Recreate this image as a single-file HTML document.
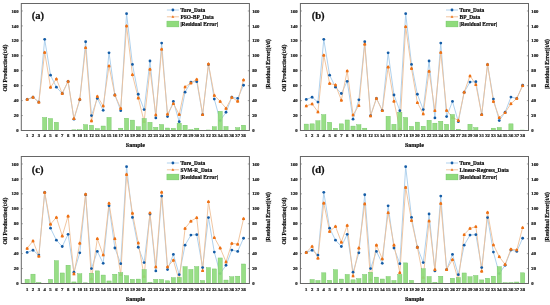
<!DOCTYPE html>
<html><head><meta charset="utf-8"><style>
html,body{margin:0;padding:0;background:#fff;}
svg{display:block;will-change:transform;}
</style></head><body>
<svg width="550" height="305" viewBox="0 0 550 305">
<rect width="550" height="305" fill="#fff"/>
<g><polyline points="27.15,99.42 33.00,97.26 38.85,102.11 44.69,39.36 50.54,75.22 56.39,87.17 62.24,93.52 68.09,81.34 73.94,119.22 79.79,99.87 85.64,41.75 91.48,115.56 97.33,98.38 103.18,110.33 109.03,52.81 114.88,95.01 120.73,110.63 126.58,13.66 132.43,64.39 138.27,94.27 144.12,109.58 149.97,61.02 155.82,117.95 161.67,43.09 167.52,116.53 173.37,101.44 179.22,121.68 185.06,92.18 190.91,82.09 196.76,81.64 202.61,114.59 208.46,64.53 214.31,99.12 220.16,120.56 226.01,112.27 231.85,97.11 237.70,98.38 243.55,85.23" fill="none" stroke="#a6cceb" stroke-width="0.9"/>
<polyline points="27.15,99.42 33.00,97.26 38.85,102.11 44.69,52.36 50.54,87.17 56.39,78.95 62.24,93.52 68.09,81.34 73.94,118.55 79.79,99.12 85.64,47.58 91.48,120.79 97.33,96.51 103.18,105.85 109.03,65.88 114.88,95.01 120.73,108.31 126.58,25.91 132.43,74.77 138.27,98.00 144.12,121.54 149.97,69.24 155.82,114.81 161.67,49.07 167.52,114.06 173.37,103.61 179.22,114.36 185.06,86.87 190.91,82.99 196.76,79.33 202.61,114.59 208.46,64.01 214.31,95.39 220.16,101.36 226.01,108.31 231.85,97.33 237.70,101.22 243.55,79.92" fill="none" stroke="#efc096" stroke-width="0.9"/>
<circle cx="27.15" cy="99.42" r="1.4" fill="#145ca6"/>
<circle cx="33.00" cy="97.26" r="1.4" fill="#145ca6"/>
<circle cx="38.85" cy="102.11" r="1.4" fill="#145ca6"/>
<circle cx="44.69" cy="39.36" r="1.4" fill="#145ca6"/>
<circle cx="50.54" cy="75.22" r="1.4" fill="#145ca6"/>
<circle cx="56.39" cy="87.17" r="1.4" fill="#145ca6"/>
<circle cx="62.24" cy="93.52" r="1.4" fill="#145ca6"/>
<circle cx="68.09" cy="81.34" r="1.4" fill="#145ca6"/>
<circle cx="73.94" cy="119.22" r="1.4" fill="#145ca6"/>
<circle cx="79.79" cy="99.87" r="1.4" fill="#145ca6"/>
<circle cx="85.64" cy="41.75" r="1.4" fill="#145ca6"/>
<circle cx="91.48" cy="115.56" r="1.4" fill="#145ca6"/>
<circle cx="97.33" cy="98.38" r="1.4" fill="#145ca6"/>
<circle cx="103.18" cy="110.33" r="1.4" fill="#145ca6"/>
<circle cx="109.03" cy="52.81" r="1.4" fill="#145ca6"/>
<circle cx="114.88" cy="95.01" r="1.4" fill="#145ca6"/>
<circle cx="120.73" cy="110.63" r="1.4" fill="#145ca6"/>
<circle cx="126.58" cy="13.66" r="1.4" fill="#145ca6"/>
<circle cx="132.43" cy="64.39" r="1.4" fill="#145ca6"/>
<circle cx="138.27" cy="94.27" r="1.4" fill="#145ca6"/>
<circle cx="144.12" cy="109.58" r="1.4" fill="#145ca6"/>
<circle cx="149.97" cy="61.02" r="1.4" fill="#145ca6"/>
<circle cx="155.82" cy="117.95" r="1.4" fill="#145ca6"/>
<circle cx="161.67" cy="43.09" r="1.4" fill="#145ca6"/>
<circle cx="167.52" cy="116.53" r="1.4" fill="#145ca6"/>
<circle cx="173.37" cy="101.44" r="1.4" fill="#145ca6"/>
<circle cx="179.22" cy="121.68" r="1.4" fill="#145ca6"/>
<circle cx="185.06" cy="92.18" r="1.4" fill="#145ca6"/>
<circle cx="190.91" cy="82.09" r="1.4" fill="#145ca6"/>
<circle cx="196.76" cy="81.64" r="1.4" fill="#145ca6"/>
<circle cx="202.61" cy="114.59" r="1.4" fill="#145ca6"/>
<circle cx="208.46" cy="64.53" r="1.4" fill="#145ca6"/>
<circle cx="214.31" cy="99.12" r="1.4" fill="#145ca6"/>
<circle cx="220.16" cy="120.56" r="1.4" fill="#145ca6"/>
<circle cx="226.01" cy="112.27" r="1.4" fill="#145ca6"/>
<circle cx="231.85" cy="97.11" r="1.4" fill="#145ca6"/>
<circle cx="237.70" cy="98.38" r="1.4" fill="#145ca6"/>
<circle cx="243.55" cy="85.23" r="1.4" fill="#145ca6"/>
<path d="M27.15 97.52 L28.75 100.77 L25.55 100.77Z" fill="#ee7216"/><circle cx="27.15" cy="99.57" r="1.32" fill="#ee7216"/>
<path d="M33.00 95.36 L34.60 98.61 L31.40 98.61Z" fill="#ee7216"/><circle cx="33.00" cy="97.41" r="1.32" fill="#ee7216"/>
<path d="M38.85 100.21 L40.45 103.46 L37.25 103.46Z" fill="#ee7216"/><circle cx="38.85" cy="102.26" r="1.32" fill="#ee7216"/>
<path d="M44.69 50.46 L46.29 53.71 L43.09 53.71Z" fill="#ee7216"/><circle cx="44.69" cy="52.51" r="1.32" fill="#ee7216"/>
<path d="M50.54 85.27 L52.14 88.52 L48.94 88.52Z" fill="#ee7216"/><circle cx="50.54" cy="87.32" r="1.32" fill="#ee7216"/>
<path d="M56.39 77.05 L57.99 80.30 L54.79 80.30Z" fill="#ee7216"/><circle cx="56.39" cy="79.10" r="1.32" fill="#ee7216"/>
<path d="M62.24 91.62 L63.84 94.87 L60.64 94.87Z" fill="#ee7216"/><circle cx="62.24" cy="93.67" r="1.32" fill="#ee7216"/>
<path d="M68.09 79.44 L69.69 82.69 L66.49 82.69Z" fill="#ee7216"/><circle cx="68.09" cy="81.49" r="1.32" fill="#ee7216"/>
<path d="M73.94 116.65 L75.54 119.90 L72.34 119.90Z" fill="#ee7216"/><circle cx="73.94" cy="118.70" r="1.32" fill="#ee7216"/>
<path d="M79.79 97.22 L81.39 100.47 L78.19 100.47Z" fill="#ee7216"/><circle cx="79.79" cy="99.27" r="1.32" fill="#ee7216"/>
<path d="M85.64 45.68 L87.24 48.93 L84.04 48.93Z" fill="#ee7216"/><circle cx="85.64" cy="47.73" r="1.32" fill="#ee7216"/>
<path d="M91.48 118.89 L93.08 122.14 L89.88 122.14Z" fill="#ee7216"/><circle cx="91.48" cy="120.94" r="1.32" fill="#ee7216"/>
<path d="M97.33 94.61 L98.93 97.86 L95.73 97.86Z" fill="#ee7216"/><circle cx="97.33" cy="96.66" r="1.32" fill="#ee7216"/>
<path d="M103.18 103.95 L104.78 107.20 L101.58 107.20Z" fill="#ee7216"/><circle cx="103.18" cy="106.00" r="1.32" fill="#ee7216"/>
<path d="M109.03 63.98 L110.63 67.23 L107.43 67.23Z" fill="#ee7216"/><circle cx="109.03" cy="66.03" r="1.32" fill="#ee7216"/>
<path d="M114.88 93.11 L116.48 96.36 L113.28 96.36Z" fill="#ee7216"/><circle cx="114.88" cy="95.16" r="1.32" fill="#ee7216"/>
<path d="M120.73 106.41 L122.33 109.66 L119.13 109.66Z" fill="#ee7216"/><circle cx="120.73" cy="108.46" r="1.32" fill="#ee7216"/>
<path d="M126.58 24.01 L128.18 27.26 L124.98 27.26Z" fill="#ee7216"/><circle cx="126.58" cy="26.06" r="1.32" fill="#ee7216"/>
<path d="M132.43 72.87 L134.03 76.12 L130.83 76.12Z" fill="#ee7216"/><circle cx="132.43" cy="74.92" r="1.32" fill="#ee7216"/>
<path d="M138.27 96.10 L139.87 99.35 L136.67 99.35Z" fill="#ee7216"/><circle cx="138.27" cy="98.15" r="1.32" fill="#ee7216"/>
<path d="M144.12 119.64 L145.72 122.89 L142.52 122.89Z" fill="#ee7216"/><circle cx="144.12" cy="121.69" r="1.32" fill="#ee7216"/>
<path d="M149.97 67.34 L151.57 70.59 L148.37 70.59Z" fill="#ee7216"/><circle cx="149.97" cy="69.39" r="1.32" fill="#ee7216"/>
<path d="M155.82 112.91 L157.42 116.16 L154.22 116.16Z" fill="#ee7216"/><circle cx="155.82" cy="114.96" r="1.32" fill="#ee7216"/>
<path d="M161.67 47.17 L163.27 50.42 L160.07 50.42Z" fill="#ee7216"/><circle cx="161.67" cy="49.22" r="1.32" fill="#ee7216"/>
<path d="M167.52 112.16 L169.12 115.41 L165.92 115.41Z" fill="#ee7216"/><circle cx="167.52" cy="114.21" r="1.32" fill="#ee7216"/>
<path d="M173.37 101.71 L174.97 104.96 L171.77 104.96Z" fill="#ee7216"/><circle cx="173.37" cy="103.76" r="1.32" fill="#ee7216"/>
<path d="M179.22 112.46 L180.82 115.71 L177.62 115.71Z" fill="#ee7216"/><circle cx="179.22" cy="114.51" r="1.32" fill="#ee7216"/>
<path d="M185.06 84.97 L186.66 88.22 L183.46 88.22Z" fill="#ee7216"/><circle cx="185.06" cy="87.02" r="1.32" fill="#ee7216"/>
<path d="M190.91 81.09 L192.51 84.34 L189.31 84.34Z" fill="#ee7216"/><circle cx="190.91" cy="83.14" r="1.32" fill="#ee7216"/>
<path d="M196.76 77.43 L198.36 80.68 L195.16 80.68Z" fill="#ee7216"/><circle cx="196.76" cy="79.48" r="1.32" fill="#ee7216"/>
<path d="M202.61 112.69 L204.21 115.94 L201.01 115.94Z" fill="#ee7216"/><circle cx="202.61" cy="114.74" r="1.32" fill="#ee7216"/>
<path d="M208.46 62.11 L210.06 65.36 L206.86 65.36Z" fill="#ee7216"/><circle cx="208.46" cy="64.16" r="1.32" fill="#ee7216"/>
<path d="M214.31 93.49 L215.91 96.74 L212.71 96.74Z" fill="#ee7216"/><circle cx="214.31" cy="95.54" r="1.32" fill="#ee7216"/>
<path d="M220.16 99.46 L221.76 102.71 L218.56 102.71Z" fill="#ee7216"/><circle cx="220.16" cy="101.51" r="1.32" fill="#ee7216"/>
<path d="M226.01 106.41 L227.61 109.66 L224.41 109.66Z" fill="#ee7216"/><circle cx="226.01" cy="108.46" r="1.32" fill="#ee7216"/>
<path d="M231.85 95.43 L233.45 98.68 L230.25 98.68Z" fill="#ee7216"/><circle cx="231.85" cy="97.48" r="1.32" fill="#ee7216"/>
<path d="M237.70 99.32 L239.30 102.57 L236.10 102.57Z" fill="#ee7216"/><circle cx="237.70" cy="101.37" r="1.32" fill="#ee7216"/>
<path d="M243.55 78.02 L245.15 81.27 L241.95 81.27Z" fill="#ee7216"/><circle cx="243.55" cy="80.07" r="1.32" fill="#ee7216"/>
<rect x="42.59" y="117.50" width="4.21" height="13.00" fill="#8fdb7c" fill-opacity="0.92" stroke="#6cc060" stroke-width="0.4"/>
<rect x="48.44" y="118.55" width="4.21" height="11.95" fill="#8fdb7c" fill-opacity="0.92" stroke="#6cc060" stroke-width="0.4"/>
<rect x="54.29" y="122.28" width="4.21" height="8.22" fill="#8fdb7c" fill-opacity="0.92" stroke="#6cc060" stroke-width="0.4"/>
<rect x="71.83" y="129.83" width="4.21" height="0.67" fill="#8fdb7c" fill-opacity="0.92" stroke="#6cc060" stroke-width="0.4"/>
<rect x="77.68" y="129.75" width="4.21" height="0.75" fill="#8fdb7c" fill-opacity="0.92" stroke="#6cc060" stroke-width="0.4"/>
<rect x="83.53" y="124.67" width="4.21" height="5.83" fill="#8fdb7c" fill-opacity="0.92" stroke="#6cc060" stroke-width="0.4"/>
<rect x="89.38" y="125.27" width="4.21" height="5.23" fill="#8fdb7c" fill-opacity="0.92" stroke="#6cc060" stroke-width="0.4"/>
<rect x="95.23" y="128.63" width="4.21" height="1.87" fill="#8fdb7c" fill-opacity="0.92" stroke="#6cc060" stroke-width="0.4"/>
<rect x="101.08" y="126.02" width="4.21" height="4.48" fill="#8fdb7c" fill-opacity="0.92" stroke="#6cc060" stroke-width="0.4"/>
<rect x="106.93" y="117.43" width="4.21" height="13.07" fill="#8fdb7c" fill-opacity="0.92" stroke="#6cc060" stroke-width="0.4"/>
<rect x="118.62" y="128.18" width="4.21" height="2.32" fill="#8fdb7c" fill-opacity="0.92" stroke="#6cc060" stroke-width="0.4"/>
<rect x="124.47" y="118.25" width="4.21" height="12.25" fill="#8fdb7c" fill-opacity="0.92" stroke="#6cc060" stroke-width="0.4"/>
<rect x="130.32" y="120.12" width="4.21" height="10.38" fill="#8fdb7c" fill-opacity="0.92" stroke="#6cc060" stroke-width="0.4"/>
<rect x="136.17" y="126.76" width="4.21" height="3.74" fill="#8fdb7c" fill-opacity="0.92" stroke="#6cc060" stroke-width="0.4"/>
<rect x="142.02" y="118.55" width="4.21" height="11.95" fill="#8fdb7c" fill-opacity="0.92" stroke="#6cc060" stroke-width="0.4"/>
<rect x="147.87" y="122.28" width="4.21" height="8.22" fill="#8fdb7c" fill-opacity="0.92" stroke="#6cc060" stroke-width="0.4"/>
<rect x="153.71" y="127.36" width="4.21" height="3.14" fill="#8fdb7c" fill-opacity="0.92" stroke="#6cc060" stroke-width="0.4"/>
<rect x="159.56" y="124.52" width="4.21" height="5.98" fill="#8fdb7c" fill-opacity="0.92" stroke="#6cc060" stroke-width="0.4"/>
<rect x="165.41" y="128.03" width="4.21" height="2.47" fill="#8fdb7c" fill-opacity="0.92" stroke="#6cc060" stroke-width="0.4"/>
<rect x="171.26" y="128.33" width="4.21" height="2.17" fill="#8fdb7c" fill-opacity="0.92" stroke="#6cc060" stroke-width="0.4"/>
<rect x="177.11" y="123.18" width="4.21" height="7.32" fill="#8fdb7c" fill-opacity="0.92" stroke="#6cc060" stroke-width="0.4"/>
<rect x="182.96" y="125.20" width="4.21" height="5.30" fill="#8fdb7c" fill-opacity="0.92" stroke="#6cc060" stroke-width="0.4"/>
<rect x="188.81" y="129.60" width="4.21" height="0.90" fill="#8fdb7c" fill-opacity="0.92" stroke="#6cc060" stroke-width="0.4"/>
<rect x="194.66" y="128.18" width="4.21" height="2.32" fill="#8fdb7c" fill-opacity="0.92" stroke="#6cc060" stroke-width="0.4"/>
<rect x="206.35" y="129.98" width="4.21" height="0.52" fill="#8fdb7c" fill-opacity="0.92" stroke="#6cc060" stroke-width="0.4"/>
<rect x="212.20" y="126.76" width="4.21" height="3.74" fill="#8fdb7c" fill-opacity="0.92" stroke="#6cc060" stroke-width="0.4"/>
<rect x="218.05" y="111.30" width="4.21" height="19.20" fill="#8fdb7c" fill-opacity="0.92" stroke="#6cc060" stroke-width="0.4"/>
<rect x="223.90" y="126.54" width="4.21" height="3.96" fill="#8fdb7c" fill-opacity="0.92" stroke="#6cc060" stroke-width="0.4"/>
<rect x="229.75" y="130.28" width="4.21" height="0.22" fill="#8fdb7c" fill-opacity="0.92" stroke="#6cc060" stroke-width="0.4"/>
<rect x="235.60" y="127.66" width="4.21" height="2.84" fill="#8fdb7c" fill-opacity="0.92" stroke="#6cc060" stroke-width="0.4"/>
<rect x="241.45" y="125.20" width="4.21" height="5.30" fill="#8fdb7c" fill-opacity="0.92" stroke="#6cc060" stroke-width="0.4"/>
<rect x="21.30" y="3.50" width="228.10" height="127.00" fill="none" stroke="#666666" stroke-width="1.0"/>
<line x1="21.30" y1="130.50" x2="22.90" y2="130.50" stroke="#666666" stroke-width="0.6"/>
<line x1="249.40" y1="130.50" x2="247.80" y2="130.50" stroke="#666666" stroke-width="0.6"/>
<text x="18.50" y="132.10" text-anchor="end" font-size="4.7" font-family="Liberation Serif, serif" font-weight="bold" stroke="#222" stroke-width="0.24" fill="#222">0</text>
<text x="252.20" y="132.10" text-anchor="start" font-size="4.7" font-family="Liberation Serif, serif" font-weight="bold" stroke="#222" stroke-width="0.24" fill="#222">0</text>
<line x1="21.30" y1="115.56" x2="22.90" y2="115.56" stroke="#666666" stroke-width="0.6"/>
<line x1="249.40" y1="115.56" x2="247.80" y2="115.56" stroke="#666666" stroke-width="0.6"/>
<text x="18.50" y="117.16" text-anchor="end" font-size="4.7" font-family="Liberation Serif, serif" font-weight="bold" stroke="#222" stroke-width="0.24" fill="#222">20</text>
<text x="252.20" y="117.16" text-anchor="start" font-size="4.7" font-family="Liberation Serif, serif" font-weight="bold" stroke="#222" stroke-width="0.24" fill="#222">20</text>
<line x1="21.30" y1="100.62" x2="22.90" y2="100.62" stroke="#666666" stroke-width="0.6"/>
<line x1="249.40" y1="100.62" x2="247.80" y2="100.62" stroke="#666666" stroke-width="0.6"/>
<text x="18.50" y="102.22" text-anchor="end" font-size="4.7" font-family="Liberation Serif, serif" font-weight="bold" stroke="#222" stroke-width="0.24" fill="#222">40</text>
<text x="252.20" y="102.22" text-anchor="start" font-size="4.7" font-family="Liberation Serif, serif" font-weight="bold" stroke="#222" stroke-width="0.24" fill="#222">40</text>
<line x1="21.30" y1="85.68" x2="22.90" y2="85.68" stroke="#666666" stroke-width="0.6"/>
<line x1="249.40" y1="85.68" x2="247.80" y2="85.68" stroke="#666666" stroke-width="0.6"/>
<text x="18.50" y="87.28" text-anchor="end" font-size="4.7" font-family="Liberation Serif, serif" font-weight="bold" stroke="#222" stroke-width="0.24" fill="#222">60</text>
<text x="252.20" y="87.28" text-anchor="start" font-size="4.7" font-family="Liberation Serif, serif" font-weight="bold" stroke="#222" stroke-width="0.24" fill="#222">60</text>
<line x1="21.30" y1="70.74" x2="22.90" y2="70.74" stroke="#666666" stroke-width="0.6"/>
<line x1="249.40" y1="70.74" x2="247.80" y2="70.74" stroke="#666666" stroke-width="0.6"/>
<text x="18.50" y="72.34" text-anchor="end" font-size="4.7" font-family="Liberation Serif, serif" font-weight="bold" stroke="#222" stroke-width="0.24" fill="#222">80</text>
<text x="252.20" y="72.34" text-anchor="start" font-size="4.7" font-family="Liberation Serif, serif" font-weight="bold" stroke="#222" stroke-width="0.24" fill="#222">80</text>
<line x1="21.30" y1="55.79" x2="22.90" y2="55.79" stroke="#666666" stroke-width="0.6"/>
<line x1="249.40" y1="55.79" x2="247.80" y2="55.79" stroke="#666666" stroke-width="0.6"/>
<text x="18.50" y="57.39" text-anchor="end" font-size="4.7" font-family="Liberation Serif, serif" font-weight="bold" stroke="#222" stroke-width="0.24" fill="#222">100</text>
<text x="252.20" y="57.39" text-anchor="start" font-size="4.7" font-family="Liberation Serif, serif" font-weight="bold" stroke="#222" stroke-width="0.24" fill="#222">100</text>
<line x1="21.30" y1="40.85" x2="22.90" y2="40.85" stroke="#666666" stroke-width="0.6"/>
<line x1="249.40" y1="40.85" x2="247.80" y2="40.85" stroke="#666666" stroke-width="0.6"/>
<text x="18.50" y="42.45" text-anchor="end" font-size="4.7" font-family="Liberation Serif, serif" font-weight="bold" stroke="#222" stroke-width="0.24" fill="#222">120</text>
<text x="252.20" y="42.45" text-anchor="start" font-size="4.7" font-family="Liberation Serif, serif" font-weight="bold" stroke="#222" stroke-width="0.24" fill="#222">120</text>
<line x1="21.30" y1="25.91" x2="22.90" y2="25.91" stroke="#666666" stroke-width="0.6"/>
<line x1="249.40" y1="25.91" x2="247.80" y2="25.91" stroke="#666666" stroke-width="0.6"/>
<text x="18.50" y="27.51" text-anchor="end" font-size="4.7" font-family="Liberation Serif, serif" font-weight="bold" stroke="#222" stroke-width="0.24" fill="#222">140</text>
<text x="252.20" y="27.51" text-anchor="start" font-size="4.7" font-family="Liberation Serif, serif" font-weight="bold" stroke="#222" stroke-width="0.24" fill="#222">140</text>
<line x1="21.30" y1="10.97" x2="22.90" y2="10.97" stroke="#666666" stroke-width="0.6"/>
<line x1="249.40" y1="10.97" x2="247.80" y2="10.97" stroke="#666666" stroke-width="0.6"/>
<text x="18.50" y="12.57" text-anchor="end" font-size="4.7" font-family="Liberation Serif, serif" font-weight="bold" stroke="#222" stroke-width="0.24" fill="#222">160</text>
<text x="252.20" y="12.57" text-anchor="start" font-size="4.7" font-family="Liberation Serif, serif" font-weight="bold" stroke="#222" stroke-width="0.24" fill="#222">160</text>
<text x="27.15" y="137.20" text-anchor="middle" font-size="4.7" font-family="Liberation Serif, serif" font-weight="bold" stroke="#222" stroke-width="0.24" fill="#222">1</text>
<text x="33.00" y="137.20" text-anchor="middle" font-size="4.7" font-family="Liberation Serif, serif" font-weight="bold" stroke="#222" stroke-width="0.24" fill="#222">2</text>
<text x="38.85" y="137.20" text-anchor="middle" font-size="4.7" font-family="Liberation Serif, serif" font-weight="bold" stroke="#222" stroke-width="0.24" fill="#222">3</text>
<text x="44.69" y="137.20" text-anchor="middle" font-size="4.7" font-family="Liberation Serif, serif" font-weight="bold" stroke="#222" stroke-width="0.24" fill="#222">4</text>
<text x="50.54" y="137.20" text-anchor="middle" font-size="4.7" font-family="Liberation Serif, serif" font-weight="bold" stroke="#222" stroke-width="0.24" fill="#222">5</text>
<text x="56.39" y="137.20" text-anchor="middle" font-size="4.7" font-family="Liberation Serif, serif" font-weight="bold" stroke="#222" stroke-width="0.24" fill="#222">6</text>
<text x="62.24" y="137.20" text-anchor="middle" font-size="4.7" font-family="Liberation Serif, serif" font-weight="bold" stroke="#222" stroke-width="0.24" fill="#222">7</text>
<text x="68.09" y="137.20" text-anchor="middle" font-size="4.7" font-family="Liberation Serif, serif" font-weight="bold" stroke="#222" stroke-width="0.24" fill="#222">8</text>
<text x="73.94" y="137.20" text-anchor="middle" font-size="4.7" font-family="Liberation Serif, serif" font-weight="bold" stroke="#222" stroke-width="0.24" fill="#222">9</text>
<text x="79.79" y="137.20" text-anchor="middle" font-size="4.7" font-family="Liberation Serif, serif" font-weight="bold" stroke="#222" stroke-width="0.24" fill="#222">10</text>
<text x="85.64" y="137.20" text-anchor="middle" font-size="4.7" font-family="Liberation Serif, serif" font-weight="bold" stroke="#222" stroke-width="0.24" fill="#222">11</text>
<text x="91.48" y="137.20" text-anchor="middle" font-size="4.7" font-family="Liberation Serif, serif" font-weight="bold" stroke="#222" stroke-width="0.24" fill="#222">12</text>
<text x="97.33" y="137.20" text-anchor="middle" font-size="4.7" font-family="Liberation Serif, serif" font-weight="bold" stroke="#222" stroke-width="0.24" fill="#222">13</text>
<text x="103.18" y="137.20" text-anchor="middle" font-size="4.7" font-family="Liberation Serif, serif" font-weight="bold" stroke="#222" stroke-width="0.24" fill="#222">14</text>
<text x="109.03" y="137.20" text-anchor="middle" font-size="4.7" font-family="Liberation Serif, serif" font-weight="bold" stroke="#222" stroke-width="0.24" fill="#222">15</text>
<text x="114.88" y="137.20" text-anchor="middle" font-size="4.7" font-family="Liberation Serif, serif" font-weight="bold" stroke="#222" stroke-width="0.24" fill="#222">16</text>
<text x="120.73" y="137.20" text-anchor="middle" font-size="4.7" font-family="Liberation Serif, serif" font-weight="bold" stroke="#222" stroke-width="0.24" fill="#222">17</text>
<text x="126.58" y="137.20" text-anchor="middle" font-size="4.7" font-family="Liberation Serif, serif" font-weight="bold" stroke="#222" stroke-width="0.24" fill="#222">18</text>
<text x="132.43" y="137.20" text-anchor="middle" font-size="4.7" font-family="Liberation Serif, serif" font-weight="bold" stroke="#222" stroke-width="0.24" fill="#222">19</text>
<text x="138.27" y="137.20" text-anchor="middle" font-size="4.7" font-family="Liberation Serif, serif" font-weight="bold" stroke="#222" stroke-width="0.24" fill="#222">20</text>
<text x="144.12" y="137.20" text-anchor="middle" font-size="4.7" font-family="Liberation Serif, serif" font-weight="bold" stroke="#222" stroke-width="0.24" fill="#222">21</text>
<text x="149.97" y="137.20" text-anchor="middle" font-size="4.7" font-family="Liberation Serif, serif" font-weight="bold" stroke="#222" stroke-width="0.24" fill="#222">22</text>
<text x="155.82" y="137.20" text-anchor="middle" font-size="4.7" font-family="Liberation Serif, serif" font-weight="bold" stroke="#222" stroke-width="0.24" fill="#222">23</text>
<text x="161.67" y="137.20" text-anchor="middle" font-size="4.7" font-family="Liberation Serif, serif" font-weight="bold" stroke="#222" stroke-width="0.24" fill="#222">24</text>
<text x="167.52" y="137.20" text-anchor="middle" font-size="4.7" font-family="Liberation Serif, serif" font-weight="bold" stroke="#222" stroke-width="0.24" fill="#222">25</text>
<text x="173.37" y="137.20" text-anchor="middle" font-size="4.7" font-family="Liberation Serif, serif" font-weight="bold" stroke="#222" stroke-width="0.24" fill="#222">26</text>
<text x="179.22" y="137.20" text-anchor="middle" font-size="4.7" font-family="Liberation Serif, serif" font-weight="bold" stroke="#222" stroke-width="0.24" fill="#222">27</text>
<text x="185.06" y="137.20" text-anchor="middle" font-size="4.7" font-family="Liberation Serif, serif" font-weight="bold" stroke="#222" stroke-width="0.24" fill="#222">28</text>
<text x="190.91" y="137.20" text-anchor="middle" font-size="4.7" font-family="Liberation Serif, serif" font-weight="bold" stroke="#222" stroke-width="0.24" fill="#222">29</text>
<text x="196.76" y="137.20" text-anchor="middle" font-size="4.7" font-family="Liberation Serif, serif" font-weight="bold" stroke="#222" stroke-width="0.24" fill="#222">30</text>
<text x="202.61" y="137.20" text-anchor="middle" font-size="4.7" font-family="Liberation Serif, serif" font-weight="bold" stroke="#222" stroke-width="0.24" fill="#222">31</text>
<text x="208.46" y="137.20" text-anchor="middle" font-size="4.7" font-family="Liberation Serif, serif" font-weight="bold" stroke="#222" stroke-width="0.24" fill="#222">32</text>
<text x="214.31" y="137.20" text-anchor="middle" font-size="4.7" font-family="Liberation Serif, serif" font-weight="bold" stroke="#222" stroke-width="0.24" fill="#222">33</text>
<text x="220.16" y="137.20" text-anchor="middle" font-size="4.7" font-family="Liberation Serif, serif" font-weight="bold" stroke="#222" stroke-width="0.24" fill="#222">34</text>
<text x="226.01" y="137.20" text-anchor="middle" font-size="4.7" font-family="Liberation Serif, serif" font-weight="bold" stroke="#222" stroke-width="0.24" fill="#222">35</text>
<text x="231.85" y="137.20" text-anchor="middle" font-size="4.7" font-family="Liberation Serif, serif" font-weight="bold" stroke="#222" stroke-width="0.24" fill="#222">36</text>
<text x="237.70" y="137.20" text-anchor="middle" font-size="4.7" font-family="Liberation Serif, serif" font-weight="bold" stroke="#222" stroke-width="0.24" fill="#222">37</text>
<text x="243.55" y="137.20" text-anchor="middle" font-size="4.7" font-family="Liberation Serif, serif" font-weight="bold" stroke="#222" stroke-width="0.24" fill="#222">38</text>
<text x="135.35" y="147.10" text-anchor="middle" font-size="6.0" font-family="Liberation Serif, serif" font-weight="bold" stroke="#111" stroke-width="0.22" fill="#111">Sample</text>
<text transform="translate(5.00,68.10) rotate(-90)" x="0" y="2" text-anchor="middle" font-size="5.75" font-family="Liberation Serif, serif" font-weight="bold" stroke="#111" stroke-width="0.22" fill="#111">Oil Production(t/d)</text>
<text transform="translate(268.20,63.90) rotate(-90)" x="0" y="2" text-anchor="middle" font-size="5.7" font-family="Liberation Serif, serif" font-weight="bold" stroke="#111" stroke-width="0.22" fill="#111">|Residual Error|(t/d)</text>
<text x="31.80" y="18.70" font-size="10.6" font-family="Liberation Serif, serif" font-weight="bold" stroke="#111" stroke-width="0.22" fill="#111">(a)</text>
<line x1="166.90" y1="10.00" x2="178.90" y2="10.00" stroke="#a6cceb" stroke-width="0.9"/>
<circle cx="172.90" cy="10.00" r="1.4" fill="#145ca6"/>
<text x="180.40" y="11.80" font-size="5.45" font-family="Liberation Serif, serif" font-weight="bold" stroke="#111" stroke-width="0.22" fill="#111">Ture_Data</text>
<line x1="166.90" y1="16.80" x2="178.90" y2="16.80" stroke="#efc096" stroke-width="0.9"/>
<path d="M172.90 15.30 L174.33 17.85 L171.47 17.85Z" fill="#ee7216"/>
<text x="180.40" y="18.60" font-size="5.45" font-family="Liberation Serif, serif" font-weight="bold" stroke="#111" stroke-width="0.22" fill="#111">PSO-BP_Data</text>
<rect x="166.90" y="21.10" width="12.0" height="5.8" fill="#8fdb7c" stroke="#6cc060" stroke-width="0.4"/>
<text x="180.40" y="25.80" font-size="5.45" font-family="Liberation Serif, serif" font-weight="bold" stroke="#111" stroke-width="0.22" fill="#111">|Residual Error|</text></g>
<g><polyline points="306.25,99.42 312.10,97.26 317.95,102.11 323.79,39.36 329.64,75.22 335.49,87.17 341.34,93.52 347.19,81.34 353.04,119.22 358.89,99.87 364.74,41.75 370.58,115.56 376.43,98.38 382.28,110.33 388.13,52.81 393.98,95.01 399.83,110.63 405.68,13.66 411.53,64.39 417.37,94.27 423.22,109.58 429.07,61.02 434.92,117.95 440.77,43.09 446.62,116.53 452.47,101.44 458.32,121.68 464.16,92.18 470.01,82.09 475.86,81.64 481.71,114.59 487.56,64.53 493.41,99.12 499.26,120.56 505.11,112.27 510.95,97.11 516.80,98.38 522.65,85.23" fill="none" stroke="#a6cceb" stroke-width="0.9"/>
<polyline points="306.25,105.85 312.10,103.90 317.95,111.82 323.79,55.20 329.64,83.44 335.49,84.93 341.34,100.17 347.19,70.81 353.04,114.81 358.89,105.62 364.74,44.07 370.58,115.86 376.43,98.38 382.28,110.63 388.13,67.00 393.98,101.22 399.83,128.86 405.68,26.66 411.53,68.49 417.37,102.63 423.22,113.84 429.07,71.26 434.92,110.63 440.77,52.36 446.62,110.33 452.47,117.43 458.32,120.41 464.16,92.18 470.01,75.82 475.86,84.56 481.71,114.59 487.56,64.39 493.41,101.44 499.26,117.58 505.11,112.57 510.95,103.76 516.80,98.38 522.65,85.68" fill="none" stroke="#efc096" stroke-width="0.9"/>
<circle cx="306.25" cy="99.42" r="1.4" fill="#145ca6"/>
<circle cx="312.10" cy="97.26" r="1.4" fill="#145ca6"/>
<circle cx="317.95" cy="102.11" r="1.4" fill="#145ca6"/>
<circle cx="323.79" cy="39.36" r="1.4" fill="#145ca6"/>
<circle cx="329.64" cy="75.22" r="1.4" fill="#145ca6"/>
<circle cx="335.49" cy="87.17" r="1.4" fill="#145ca6"/>
<circle cx="341.34" cy="93.52" r="1.4" fill="#145ca6"/>
<circle cx="347.19" cy="81.34" r="1.4" fill="#145ca6"/>
<circle cx="353.04" cy="119.22" r="1.4" fill="#145ca6"/>
<circle cx="358.89" cy="99.87" r="1.4" fill="#145ca6"/>
<circle cx="364.74" cy="41.75" r="1.4" fill="#145ca6"/>
<circle cx="370.58" cy="115.56" r="1.4" fill="#145ca6"/>
<circle cx="376.43" cy="98.38" r="1.4" fill="#145ca6"/>
<circle cx="382.28" cy="110.33" r="1.4" fill="#145ca6"/>
<circle cx="388.13" cy="52.81" r="1.4" fill="#145ca6"/>
<circle cx="393.98" cy="95.01" r="1.4" fill="#145ca6"/>
<circle cx="399.83" cy="110.63" r="1.4" fill="#145ca6"/>
<circle cx="405.68" cy="13.66" r="1.4" fill="#145ca6"/>
<circle cx="411.53" cy="64.39" r="1.4" fill="#145ca6"/>
<circle cx="417.37" cy="94.27" r="1.4" fill="#145ca6"/>
<circle cx="423.22" cy="109.58" r="1.4" fill="#145ca6"/>
<circle cx="429.07" cy="61.02" r="1.4" fill="#145ca6"/>
<circle cx="434.92" cy="117.95" r="1.4" fill="#145ca6"/>
<circle cx="440.77" cy="43.09" r="1.4" fill="#145ca6"/>
<circle cx="446.62" cy="116.53" r="1.4" fill="#145ca6"/>
<circle cx="452.47" cy="101.44" r="1.4" fill="#145ca6"/>
<circle cx="458.32" cy="121.68" r="1.4" fill="#145ca6"/>
<circle cx="464.16" cy="92.18" r="1.4" fill="#145ca6"/>
<circle cx="470.01" cy="82.09" r="1.4" fill="#145ca6"/>
<circle cx="475.86" cy="81.64" r="1.4" fill="#145ca6"/>
<circle cx="481.71" cy="114.59" r="1.4" fill="#145ca6"/>
<circle cx="487.56" cy="64.53" r="1.4" fill="#145ca6"/>
<circle cx="493.41" cy="99.12" r="1.4" fill="#145ca6"/>
<circle cx="499.26" cy="120.56" r="1.4" fill="#145ca6"/>
<circle cx="505.11" cy="112.27" r="1.4" fill="#145ca6"/>
<circle cx="510.95" cy="97.11" r="1.4" fill="#145ca6"/>
<circle cx="516.80" cy="98.38" r="1.4" fill="#145ca6"/>
<circle cx="522.65" cy="85.23" r="1.4" fill="#145ca6"/>
<path d="M306.25 103.95 L307.85 107.20 L304.65 107.20Z" fill="#ee7216"/><circle cx="306.25" cy="106.00" r="1.32" fill="#ee7216"/>
<path d="M312.10 102.00 L313.70 105.25 L310.50 105.25Z" fill="#ee7216"/><circle cx="312.10" cy="104.05" r="1.32" fill="#ee7216"/>
<path d="M317.95 109.92 L319.55 113.17 L316.35 113.17Z" fill="#ee7216"/><circle cx="317.95" cy="111.97" r="1.32" fill="#ee7216"/>
<path d="M323.79 53.30 L325.39 56.55 L322.19 56.55Z" fill="#ee7216"/><circle cx="323.79" cy="55.35" r="1.32" fill="#ee7216"/>
<path d="M329.64 81.54 L331.24 84.79 L328.04 84.79Z" fill="#ee7216"/><circle cx="329.64" cy="83.59" r="1.32" fill="#ee7216"/>
<path d="M335.49 83.03 L337.09 86.28 L333.89 86.28Z" fill="#ee7216"/><circle cx="335.49" cy="85.08" r="1.32" fill="#ee7216"/>
<path d="M341.34 98.27 L342.94 101.52 L339.74 101.52Z" fill="#ee7216"/><circle cx="341.34" cy="100.32" r="1.32" fill="#ee7216"/>
<path d="M347.19 68.91 L348.79 72.16 L345.59 72.16Z" fill="#ee7216"/><circle cx="347.19" cy="70.96" r="1.32" fill="#ee7216"/>
<path d="M353.04 112.91 L354.64 116.16 L351.44 116.16Z" fill="#ee7216"/><circle cx="353.04" cy="114.96" r="1.32" fill="#ee7216"/>
<path d="M358.89 103.72 L360.49 106.97 L357.29 106.97Z" fill="#ee7216"/><circle cx="358.89" cy="105.77" r="1.32" fill="#ee7216"/>
<path d="M364.74 42.17 L366.34 45.42 L363.14 45.42Z" fill="#ee7216"/><circle cx="364.74" cy="44.22" r="1.32" fill="#ee7216"/>
<path d="M370.58 113.96 L372.18 117.21 L368.98 117.21Z" fill="#ee7216"/><circle cx="370.58" cy="116.01" r="1.32" fill="#ee7216"/>
<path d="M376.43 96.48 L378.03 99.73 L374.83 99.73Z" fill="#ee7216"/><circle cx="376.43" cy="98.53" r="1.32" fill="#ee7216"/>
<path d="M382.28 108.73 L383.88 111.98 L380.68 111.98Z" fill="#ee7216"/><circle cx="382.28" cy="110.78" r="1.32" fill="#ee7216"/>
<path d="M388.13 65.10 L389.73 68.35 L386.53 68.35Z" fill="#ee7216"/><circle cx="388.13" cy="67.15" r="1.32" fill="#ee7216"/>
<path d="M393.98 99.32 L395.58 102.57 L392.38 102.57Z" fill="#ee7216"/><circle cx="393.98" cy="101.37" r="1.32" fill="#ee7216"/>
<path d="M399.83 126.96 L401.43 130.21 L398.23 130.21Z" fill="#ee7216"/><circle cx="399.83" cy="129.01" r="1.32" fill="#ee7216"/>
<path d="M405.68 24.76 L407.28 28.01 L404.08 28.01Z" fill="#ee7216"/><circle cx="405.68" cy="26.81" r="1.32" fill="#ee7216"/>
<path d="M411.53 66.59 L413.13 69.84 L409.93 69.84Z" fill="#ee7216"/><circle cx="411.53" cy="68.64" r="1.32" fill="#ee7216"/>
<path d="M417.37 100.73 L418.97 103.98 L415.77 103.98Z" fill="#ee7216"/><circle cx="417.37" cy="102.78" r="1.32" fill="#ee7216"/>
<path d="M423.22 111.94 L424.82 115.19 L421.62 115.19Z" fill="#ee7216"/><circle cx="423.22" cy="113.99" r="1.32" fill="#ee7216"/>
<path d="M429.07 69.36 L430.67 72.61 L427.47 72.61Z" fill="#ee7216"/><circle cx="429.07" cy="71.41" r="1.32" fill="#ee7216"/>
<path d="M434.92 108.73 L436.52 111.98 L433.32 111.98Z" fill="#ee7216"/><circle cx="434.92" cy="110.78" r="1.32" fill="#ee7216"/>
<path d="M440.77 50.46 L442.37 53.71 L439.17 53.71Z" fill="#ee7216"/><circle cx="440.77" cy="52.51" r="1.32" fill="#ee7216"/>
<path d="M446.62 108.43 L448.22 111.68 L445.02 111.68Z" fill="#ee7216"/><circle cx="446.62" cy="110.48" r="1.32" fill="#ee7216"/>
<path d="M452.47 115.53 L454.07 118.78 L450.87 118.78Z" fill="#ee7216"/><circle cx="452.47" cy="117.58" r="1.32" fill="#ee7216"/>
<path d="M458.32 118.51 L459.92 121.76 L456.72 121.76Z" fill="#ee7216"/><circle cx="458.32" cy="120.56" r="1.32" fill="#ee7216"/>
<path d="M464.16 90.28 L465.76 93.53 L462.56 93.53Z" fill="#ee7216"/><circle cx="464.16" cy="92.33" r="1.32" fill="#ee7216"/>
<path d="M470.01 73.92 L471.61 77.17 L468.41 77.17Z" fill="#ee7216"/><circle cx="470.01" cy="75.97" r="1.32" fill="#ee7216"/>
<path d="M475.86 82.66 L477.46 85.91 L474.26 85.91Z" fill="#ee7216"/><circle cx="475.86" cy="84.71" r="1.32" fill="#ee7216"/>
<path d="M481.71 112.69 L483.31 115.94 L480.11 115.94Z" fill="#ee7216"/><circle cx="481.71" cy="114.74" r="1.32" fill="#ee7216"/>
<path d="M487.56 62.49 L489.16 65.74 L485.96 65.74Z" fill="#ee7216"/><circle cx="487.56" cy="64.54" r="1.32" fill="#ee7216"/>
<path d="M493.41 99.54 L495.01 102.79 L491.81 102.79Z" fill="#ee7216"/><circle cx="493.41" cy="101.59" r="1.32" fill="#ee7216"/>
<path d="M499.26 115.68 L500.86 118.93 L497.66 118.93Z" fill="#ee7216"/><circle cx="499.26" cy="117.73" r="1.32" fill="#ee7216"/>
<path d="M505.11 110.67 L506.71 113.92 L503.51 113.92Z" fill="#ee7216"/><circle cx="505.11" cy="112.72" r="1.32" fill="#ee7216"/>
<path d="M510.95 101.86 L512.55 105.11 L509.35 105.11Z" fill="#ee7216"/><circle cx="510.95" cy="103.91" r="1.32" fill="#ee7216"/>
<path d="M516.80 96.48 L518.40 99.73 L515.20 99.73Z" fill="#ee7216"/><circle cx="516.80" cy="98.53" r="1.32" fill="#ee7216"/>
<path d="M522.65 83.78 L524.25 87.03 L521.05 87.03Z" fill="#ee7216"/><circle cx="522.65" cy="85.83" r="1.32" fill="#ee7216"/>
<rect x="304.14" y="124.08" width="4.21" height="6.42" fill="#8fdb7c" fill-opacity="0.92" stroke="#6cc060" stroke-width="0.4"/>
<rect x="309.99" y="123.85" width="4.21" height="6.65" fill="#8fdb7c" fill-opacity="0.92" stroke="#6cc060" stroke-width="0.4"/>
<rect x="315.84" y="120.79" width="4.21" height="9.71" fill="#8fdb7c" fill-opacity="0.92" stroke="#6cc060" stroke-width="0.4"/>
<rect x="321.69" y="114.66" width="4.21" height="15.84" fill="#8fdb7c" fill-opacity="0.92" stroke="#6cc060" stroke-width="0.4"/>
<rect x="327.54" y="122.28" width="4.21" height="8.22" fill="#8fdb7c" fill-opacity="0.92" stroke="#6cc060" stroke-width="0.4"/>
<rect x="333.39" y="128.26" width="4.21" height="2.24" fill="#8fdb7c" fill-opacity="0.92" stroke="#6cc060" stroke-width="0.4"/>
<rect x="339.24" y="123.85" width="4.21" height="6.65" fill="#8fdb7c" fill-opacity="0.92" stroke="#6cc060" stroke-width="0.4"/>
<rect x="345.08" y="119.97" width="4.21" height="10.53" fill="#8fdb7c" fill-opacity="0.92" stroke="#6cc060" stroke-width="0.4"/>
<rect x="350.93" y="126.09" width="4.21" height="4.41" fill="#8fdb7c" fill-opacity="0.92" stroke="#6cc060" stroke-width="0.4"/>
<rect x="356.78" y="124.75" width="4.21" height="5.75" fill="#8fdb7c" fill-opacity="0.92" stroke="#6cc060" stroke-width="0.4"/>
<rect x="362.63" y="128.18" width="4.21" height="2.32" fill="#8fdb7c" fill-opacity="0.92" stroke="#6cc060" stroke-width="0.4"/>
<rect x="368.48" y="130.20" width="4.21" height="0.30" fill="#8fdb7c" fill-opacity="0.92" stroke="#6cc060" stroke-width="0.4"/>
<rect x="380.18" y="130.20" width="4.21" height="0.30" fill="#8fdb7c" fill-opacity="0.92" stroke="#6cc060" stroke-width="0.4"/>
<rect x="386.03" y="116.31" width="4.21" height="14.19" fill="#8fdb7c" fill-opacity="0.92" stroke="#6cc060" stroke-width="0.4"/>
<rect x="391.87" y="124.30" width="4.21" height="6.20" fill="#8fdb7c" fill-opacity="0.92" stroke="#6cc060" stroke-width="0.4"/>
<rect x="397.72" y="112.27" width="4.21" height="18.23" fill="#8fdb7c" fill-opacity="0.92" stroke="#6cc060" stroke-width="0.4"/>
<rect x="403.57" y="117.50" width="4.21" height="13.00" fill="#8fdb7c" fill-opacity="0.92" stroke="#6cc060" stroke-width="0.4"/>
<rect x="409.42" y="126.39" width="4.21" height="4.11" fill="#8fdb7c" fill-opacity="0.92" stroke="#6cc060" stroke-width="0.4"/>
<rect x="415.27" y="122.13" width="4.21" height="8.37" fill="#8fdb7c" fill-opacity="0.92" stroke="#6cc060" stroke-width="0.4"/>
<rect x="421.12" y="126.24" width="4.21" height="4.26" fill="#8fdb7c" fill-opacity="0.92" stroke="#6cc060" stroke-width="0.4"/>
<rect x="426.97" y="120.27" width="4.21" height="10.23" fill="#8fdb7c" fill-opacity="0.92" stroke="#6cc060" stroke-width="0.4"/>
<rect x="432.81" y="123.18" width="4.21" height="7.32" fill="#8fdb7c" fill-opacity="0.92" stroke="#6cc060" stroke-width="0.4"/>
<rect x="438.66" y="121.24" width="4.21" height="9.26" fill="#8fdb7c" fill-opacity="0.92" stroke="#6cc060" stroke-width="0.4"/>
<rect x="444.51" y="124.30" width="4.21" height="6.20" fill="#8fdb7c" fill-opacity="0.92" stroke="#6cc060" stroke-width="0.4"/>
<rect x="450.36" y="114.51" width="4.21" height="15.99" fill="#8fdb7c" fill-opacity="0.92" stroke="#6cc060" stroke-width="0.4"/>
<rect x="456.21" y="129.23" width="4.21" height="1.27" fill="#8fdb7c" fill-opacity="0.92" stroke="#6cc060" stroke-width="0.4"/>
<rect x="467.91" y="124.22" width="4.21" height="6.28" fill="#8fdb7c" fill-opacity="0.92" stroke="#6cc060" stroke-width="0.4"/>
<rect x="473.76" y="127.59" width="4.21" height="2.91" fill="#8fdb7c" fill-opacity="0.92" stroke="#6cc060" stroke-width="0.4"/>
<rect x="485.45" y="130.35" width="4.21" height="0.15" fill="#8fdb7c" fill-opacity="0.92" stroke="#6cc060" stroke-width="0.4"/>
<rect x="491.30" y="128.18" width="4.21" height="2.32" fill="#8fdb7c" fill-opacity="0.92" stroke="#6cc060" stroke-width="0.4"/>
<rect x="497.15" y="127.51" width="4.21" height="2.99" fill="#8fdb7c" fill-opacity="0.92" stroke="#6cc060" stroke-width="0.4"/>
<rect x="503.00" y="130.20" width="4.21" height="0.30" fill="#8fdb7c" fill-opacity="0.92" stroke="#6cc060" stroke-width="0.4"/>
<rect x="508.85" y="123.85" width="4.21" height="6.65" fill="#8fdb7c" fill-opacity="0.92" stroke="#6cc060" stroke-width="0.4"/>
<rect x="520.55" y="130.05" width="4.21" height="0.45" fill="#8fdb7c" fill-opacity="0.92" stroke="#6cc060" stroke-width="0.4"/>
<rect x="300.40" y="3.50" width="228.10" height="127.00" fill="none" stroke="#666666" stroke-width="1.0"/>
<line x1="300.40" y1="130.50" x2="302.00" y2="130.50" stroke="#666666" stroke-width="0.6"/>
<line x1="528.50" y1="130.50" x2="526.90" y2="130.50" stroke="#666666" stroke-width="0.6"/>
<text x="297.60" y="132.10" text-anchor="end" font-size="4.7" font-family="Liberation Serif, serif" font-weight="bold" stroke="#222" stroke-width="0.24" fill="#222">0</text>
<text x="531.30" y="132.10" text-anchor="start" font-size="4.7" font-family="Liberation Serif, serif" font-weight="bold" stroke="#222" stroke-width="0.24" fill="#222">0</text>
<line x1="300.40" y1="115.56" x2="302.00" y2="115.56" stroke="#666666" stroke-width="0.6"/>
<line x1="528.50" y1="115.56" x2="526.90" y2="115.56" stroke="#666666" stroke-width="0.6"/>
<text x="297.60" y="117.16" text-anchor="end" font-size="4.7" font-family="Liberation Serif, serif" font-weight="bold" stroke="#222" stroke-width="0.24" fill="#222">20</text>
<text x="531.30" y="117.16" text-anchor="start" font-size="4.7" font-family="Liberation Serif, serif" font-weight="bold" stroke="#222" stroke-width="0.24" fill="#222">20</text>
<line x1="300.40" y1="100.62" x2="302.00" y2="100.62" stroke="#666666" stroke-width="0.6"/>
<line x1="528.50" y1="100.62" x2="526.90" y2="100.62" stroke="#666666" stroke-width="0.6"/>
<text x="297.60" y="102.22" text-anchor="end" font-size="4.7" font-family="Liberation Serif, serif" font-weight="bold" stroke="#222" stroke-width="0.24" fill="#222">40</text>
<text x="531.30" y="102.22" text-anchor="start" font-size="4.7" font-family="Liberation Serif, serif" font-weight="bold" stroke="#222" stroke-width="0.24" fill="#222">40</text>
<line x1="300.40" y1="85.68" x2="302.00" y2="85.68" stroke="#666666" stroke-width="0.6"/>
<line x1="528.50" y1="85.68" x2="526.90" y2="85.68" stroke="#666666" stroke-width="0.6"/>
<text x="297.60" y="87.28" text-anchor="end" font-size="4.7" font-family="Liberation Serif, serif" font-weight="bold" stroke="#222" stroke-width="0.24" fill="#222">60</text>
<text x="531.30" y="87.28" text-anchor="start" font-size="4.7" font-family="Liberation Serif, serif" font-weight="bold" stroke="#222" stroke-width="0.24" fill="#222">60</text>
<line x1="300.40" y1="70.74" x2="302.00" y2="70.74" stroke="#666666" stroke-width="0.6"/>
<line x1="528.50" y1="70.74" x2="526.90" y2="70.74" stroke="#666666" stroke-width="0.6"/>
<text x="297.60" y="72.34" text-anchor="end" font-size="4.7" font-family="Liberation Serif, serif" font-weight="bold" stroke="#222" stroke-width="0.24" fill="#222">80</text>
<text x="531.30" y="72.34" text-anchor="start" font-size="4.7" font-family="Liberation Serif, serif" font-weight="bold" stroke="#222" stroke-width="0.24" fill="#222">80</text>
<line x1="300.40" y1="55.79" x2="302.00" y2="55.79" stroke="#666666" stroke-width="0.6"/>
<line x1="528.50" y1="55.79" x2="526.90" y2="55.79" stroke="#666666" stroke-width="0.6"/>
<text x="297.60" y="57.39" text-anchor="end" font-size="4.7" font-family="Liberation Serif, serif" font-weight="bold" stroke="#222" stroke-width="0.24" fill="#222">100</text>
<text x="531.30" y="57.39" text-anchor="start" font-size="4.7" font-family="Liberation Serif, serif" font-weight="bold" stroke="#222" stroke-width="0.24" fill="#222">100</text>
<line x1="300.40" y1="40.85" x2="302.00" y2="40.85" stroke="#666666" stroke-width="0.6"/>
<line x1="528.50" y1="40.85" x2="526.90" y2="40.85" stroke="#666666" stroke-width="0.6"/>
<text x="297.60" y="42.45" text-anchor="end" font-size="4.7" font-family="Liberation Serif, serif" font-weight="bold" stroke="#222" stroke-width="0.24" fill="#222">120</text>
<text x="531.30" y="42.45" text-anchor="start" font-size="4.7" font-family="Liberation Serif, serif" font-weight="bold" stroke="#222" stroke-width="0.24" fill="#222">120</text>
<line x1="300.40" y1="25.91" x2="302.00" y2="25.91" stroke="#666666" stroke-width="0.6"/>
<line x1="528.50" y1="25.91" x2="526.90" y2="25.91" stroke="#666666" stroke-width="0.6"/>
<text x="297.60" y="27.51" text-anchor="end" font-size="4.7" font-family="Liberation Serif, serif" font-weight="bold" stroke="#222" stroke-width="0.24" fill="#222">140</text>
<text x="531.30" y="27.51" text-anchor="start" font-size="4.7" font-family="Liberation Serif, serif" font-weight="bold" stroke="#222" stroke-width="0.24" fill="#222">140</text>
<line x1="300.40" y1="10.97" x2="302.00" y2="10.97" stroke="#666666" stroke-width="0.6"/>
<line x1="528.50" y1="10.97" x2="526.90" y2="10.97" stroke="#666666" stroke-width="0.6"/>
<text x="297.60" y="12.57" text-anchor="end" font-size="4.7" font-family="Liberation Serif, serif" font-weight="bold" stroke="#222" stroke-width="0.24" fill="#222">160</text>
<text x="531.30" y="12.57" text-anchor="start" font-size="4.7" font-family="Liberation Serif, serif" font-weight="bold" stroke="#222" stroke-width="0.24" fill="#222">160</text>
<text x="306.25" y="137.20" text-anchor="middle" font-size="4.7" font-family="Liberation Serif, serif" font-weight="bold" stroke="#222" stroke-width="0.24" fill="#222">1</text>
<text x="312.10" y="137.20" text-anchor="middle" font-size="4.7" font-family="Liberation Serif, serif" font-weight="bold" stroke="#222" stroke-width="0.24" fill="#222">2</text>
<text x="317.95" y="137.20" text-anchor="middle" font-size="4.7" font-family="Liberation Serif, serif" font-weight="bold" stroke="#222" stroke-width="0.24" fill="#222">3</text>
<text x="323.79" y="137.20" text-anchor="middle" font-size="4.7" font-family="Liberation Serif, serif" font-weight="bold" stroke="#222" stroke-width="0.24" fill="#222">4</text>
<text x="329.64" y="137.20" text-anchor="middle" font-size="4.7" font-family="Liberation Serif, serif" font-weight="bold" stroke="#222" stroke-width="0.24" fill="#222">5</text>
<text x="335.49" y="137.20" text-anchor="middle" font-size="4.7" font-family="Liberation Serif, serif" font-weight="bold" stroke="#222" stroke-width="0.24" fill="#222">6</text>
<text x="341.34" y="137.20" text-anchor="middle" font-size="4.7" font-family="Liberation Serif, serif" font-weight="bold" stroke="#222" stroke-width="0.24" fill="#222">7</text>
<text x="347.19" y="137.20" text-anchor="middle" font-size="4.7" font-family="Liberation Serif, serif" font-weight="bold" stroke="#222" stroke-width="0.24" fill="#222">8</text>
<text x="353.04" y="137.20" text-anchor="middle" font-size="4.7" font-family="Liberation Serif, serif" font-weight="bold" stroke="#222" stroke-width="0.24" fill="#222">9</text>
<text x="358.89" y="137.20" text-anchor="middle" font-size="4.7" font-family="Liberation Serif, serif" font-weight="bold" stroke="#222" stroke-width="0.24" fill="#222">10</text>
<text x="364.74" y="137.20" text-anchor="middle" font-size="4.7" font-family="Liberation Serif, serif" font-weight="bold" stroke="#222" stroke-width="0.24" fill="#222">11</text>
<text x="370.58" y="137.20" text-anchor="middle" font-size="4.7" font-family="Liberation Serif, serif" font-weight="bold" stroke="#222" stroke-width="0.24" fill="#222">12</text>
<text x="376.43" y="137.20" text-anchor="middle" font-size="4.7" font-family="Liberation Serif, serif" font-weight="bold" stroke="#222" stroke-width="0.24" fill="#222">13</text>
<text x="382.28" y="137.20" text-anchor="middle" font-size="4.7" font-family="Liberation Serif, serif" font-weight="bold" stroke="#222" stroke-width="0.24" fill="#222">14</text>
<text x="388.13" y="137.20" text-anchor="middle" font-size="4.7" font-family="Liberation Serif, serif" font-weight="bold" stroke="#222" stroke-width="0.24" fill="#222">15</text>
<text x="393.98" y="137.20" text-anchor="middle" font-size="4.7" font-family="Liberation Serif, serif" font-weight="bold" stroke="#222" stroke-width="0.24" fill="#222">16</text>
<text x="399.83" y="137.20" text-anchor="middle" font-size="4.7" font-family="Liberation Serif, serif" font-weight="bold" stroke="#222" stroke-width="0.24" fill="#222">17</text>
<text x="405.68" y="137.20" text-anchor="middle" font-size="4.7" font-family="Liberation Serif, serif" font-weight="bold" stroke="#222" stroke-width="0.24" fill="#222">18</text>
<text x="411.53" y="137.20" text-anchor="middle" font-size="4.7" font-family="Liberation Serif, serif" font-weight="bold" stroke="#222" stroke-width="0.24" fill="#222">19</text>
<text x="417.37" y="137.20" text-anchor="middle" font-size="4.7" font-family="Liberation Serif, serif" font-weight="bold" stroke="#222" stroke-width="0.24" fill="#222">20</text>
<text x="423.22" y="137.20" text-anchor="middle" font-size="4.7" font-family="Liberation Serif, serif" font-weight="bold" stroke="#222" stroke-width="0.24" fill="#222">21</text>
<text x="429.07" y="137.20" text-anchor="middle" font-size="4.7" font-family="Liberation Serif, serif" font-weight="bold" stroke="#222" stroke-width="0.24" fill="#222">22</text>
<text x="434.92" y="137.20" text-anchor="middle" font-size="4.7" font-family="Liberation Serif, serif" font-weight="bold" stroke="#222" stroke-width="0.24" fill="#222">23</text>
<text x="440.77" y="137.20" text-anchor="middle" font-size="4.7" font-family="Liberation Serif, serif" font-weight="bold" stroke="#222" stroke-width="0.24" fill="#222">24</text>
<text x="446.62" y="137.20" text-anchor="middle" font-size="4.7" font-family="Liberation Serif, serif" font-weight="bold" stroke="#222" stroke-width="0.24" fill="#222">25</text>
<text x="452.47" y="137.20" text-anchor="middle" font-size="4.7" font-family="Liberation Serif, serif" font-weight="bold" stroke="#222" stroke-width="0.24" fill="#222">26</text>
<text x="458.32" y="137.20" text-anchor="middle" font-size="4.7" font-family="Liberation Serif, serif" font-weight="bold" stroke="#222" stroke-width="0.24" fill="#222">27</text>
<text x="464.16" y="137.20" text-anchor="middle" font-size="4.7" font-family="Liberation Serif, serif" font-weight="bold" stroke="#222" stroke-width="0.24" fill="#222">28</text>
<text x="470.01" y="137.20" text-anchor="middle" font-size="4.7" font-family="Liberation Serif, serif" font-weight="bold" stroke="#222" stroke-width="0.24" fill="#222">29</text>
<text x="475.86" y="137.20" text-anchor="middle" font-size="4.7" font-family="Liberation Serif, serif" font-weight="bold" stroke="#222" stroke-width="0.24" fill="#222">30</text>
<text x="481.71" y="137.20" text-anchor="middle" font-size="4.7" font-family="Liberation Serif, serif" font-weight="bold" stroke="#222" stroke-width="0.24" fill="#222">31</text>
<text x="487.56" y="137.20" text-anchor="middle" font-size="4.7" font-family="Liberation Serif, serif" font-weight="bold" stroke="#222" stroke-width="0.24" fill="#222">32</text>
<text x="493.41" y="137.20" text-anchor="middle" font-size="4.7" font-family="Liberation Serif, serif" font-weight="bold" stroke="#222" stroke-width="0.24" fill="#222">33</text>
<text x="499.26" y="137.20" text-anchor="middle" font-size="4.7" font-family="Liberation Serif, serif" font-weight="bold" stroke="#222" stroke-width="0.24" fill="#222">34</text>
<text x="505.11" y="137.20" text-anchor="middle" font-size="4.7" font-family="Liberation Serif, serif" font-weight="bold" stroke="#222" stroke-width="0.24" fill="#222">35</text>
<text x="510.95" y="137.20" text-anchor="middle" font-size="4.7" font-family="Liberation Serif, serif" font-weight="bold" stroke="#222" stroke-width="0.24" fill="#222">36</text>
<text x="516.80" y="137.20" text-anchor="middle" font-size="4.7" font-family="Liberation Serif, serif" font-weight="bold" stroke="#222" stroke-width="0.24" fill="#222">37</text>
<text x="522.65" y="137.20" text-anchor="middle" font-size="4.7" font-family="Liberation Serif, serif" font-weight="bold" stroke="#222" stroke-width="0.24" fill="#222">38</text>
<text x="414.45" y="147.10" text-anchor="middle" font-size="6.0" font-family="Liberation Serif, serif" font-weight="bold" stroke="#111" stroke-width="0.22" fill="#111">Sample</text>
<text transform="translate(284.10,68.10) rotate(-90)" x="0" y="2" text-anchor="middle" font-size="5.75" font-family="Liberation Serif, serif" font-weight="bold" stroke="#111" stroke-width="0.22" fill="#111">Oil Production(t/d)</text>
<text transform="translate(546.60,63.90) rotate(-90)" x="0" y="2" text-anchor="middle" font-size="5.7" font-family="Liberation Serif, serif" font-weight="bold" stroke="#111" stroke-width="0.22" fill="#111">|Residual Error|(t/d)</text>
<text x="311.70" y="18.70" font-size="10.6" font-family="Liberation Serif, serif" font-weight="bold" stroke="#111" stroke-width="0.22" fill="#111">(b)</text>
<line x1="446.00" y1="10.00" x2="458.00" y2="10.00" stroke="#a6cceb" stroke-width="0.9"/>
<circle cx="452.00" cy="10.00" r="1.4" fill="#145ca6"/>
<text x="459.50" y="11.80" font-size="5.45" font-family="Liberation Serif, serif" font-weight="bold" stroke="#111" stroke-width="0.22" fill="#111">Ture_Data</text>
<line x1="446.00" y1="16.80" x2="458.00" y2="16.80" stroke="#efc096" stroke-width="0.9"/>
<path d="M452.00 15.30 L453.43 17.85 L450.57 17.85Z" fill="#ee7216"/>
<text x="459.50" y="18.60" font-size="5.45" font-family="Liberation Serif, serif" font-weight="bold" stroke="#111" stroke-width="0.22" fill="#111">BP_Data</text>
<rect x="446.00" y="21.10" width="12.0" height="5.8" fill="#8fdb7c" stroke="#6cc060" stroke-width="0.4"/>
<text x="459.50" y="25.80" font-size="5.45" font-family="Liberation Serif, serif" font-weight="bold" stroke="#111" stroke-width="0.22" fill="#111">|Residual Error|</text></g>
<g><polyline points="27.15,252.42 33.00,250.26 38.85,255.11 44.69,192.36 50.54,228.22 56.39,240.17 62.24,246.52 68.09,234.34 73.94,272.22 79.79,252.87 85.64,194.75 91.48,268.56 97.33,251.38 103.18,263.33 109.03,205.81 114.88,248.01 120.73,263.63 126.58,166.66 132.43,217.39 138.27,247.27 144.12,262.58 149.97,214.02 155.82,270.95 161.67,196.09 167.52,269.53 173.37,254.44 179.22,274.68 185.06,245.18 190.91,235.09 196.76,234.64 202.61,267.59 208.46,217.53 214.31,252.12 220.16,273.56 226.01,265.27 231.85,250.11 237.70,251.38 243.55,238.23" fill="none" stroke="#a6cceb" stroke-width="0.9"/>
<polyline points="27.15,248.31 33.00,240.92 38.85,256.16 44.69,192.36 50.54,224.11 56.39,217.39 62.24,235.99 68.09,216.04 73.94,273.79 79.79,243.16 85.64,194.08 91.48,278.87 97.33,238.75 103.18,254.89 109.03,203.27 114.88,238.75 120.73,274.54 126.58,174.50 132.43,213.20 138.27,242.86 144.12,276.40 149.97,212.83 155.82,266.84 161.67,192.06 167.52,266.84 173.37,260.27 179.22,280.74 185.06,228.37 190.91,221.05 196.76,217.76 202.61,270.58 208.46,201.70 214.31,237.56 220.16,248.01 226.01,261.84 231.85,243.38 237.70,244.06 243.55,218.73" fill="none" stroke="#efc096" stroke-width="0.9"/>
<circle cx="27.15" cy="252.42" r="1.4" fill="#145ca6"/>
<circle cx="33.00" cy="250.26" r="1.4" fill="#145ca6"/>
<circle cx="38.85" cy="255.11" r="1.4" fill="#145ca6"/>
<circle cx="44.69" cy="192.36" r="1.4" fill="#145ca6"/>
<circle cx="50.54" cy="228.22" r="1.4" fill="#145ca6"/>
<circle cx="56.39" cy="240.17" r="1.4" fill="#145ca6"/>
<circle cx="62.24" cy="246.52" r="1.4" fill="#145ca6"/>
<circle cx="68.09" cy="234.34" r="1.4" fill="#145ca6"/>
<circle cx="73.94" cy="272.22" r="1.4" fill="#145ca6"/>
<circle cx="79.79" cy="252.87" r="1.4" fill="#145ca6"/>
<circle cx="85.64" cy="194.75" r="1.4" fill="#145ca6"/>
<circle cx="91.48" cy="268.56" r="1.4" fill="#145ca6"/>
<circle cx="97.33" cy="251.38" r="1.4" fill="#145ca6"/>
<circle cx="103.18" cy="263.33" r="1.4" fill="#145ca6"/>
<circle cx="109.03" cy="205.81" r="1.4" fill="#145ca6"/>
<circle cx="114.88" cy="248.01" r="1.4" fill="#145ca6"/>
<circle cx="120.73" cy="263.63" r="1.4" fill="#145ca6"/>
<circle cx="126.58" cy="166.66" r="1.4" fill="#145ca6"/>
<circle cx="132.43" cy="217.39" r="1.4" fill="#145ca6"/>
<circle cx="138.27" cy="247.27" r="1.4" fill="#145ca6"/>
<circle cx="144.12" cy="262.58" r="1.4" fill="#145ca6"/>
<circle cx="149.97" cy="214.02" r="1.4" fill="#145ca6"/>
<circle cx="155.82" cy="270.95" r="1.4" fill="#145ca6"/>
<circle cx="161.67" cy="196.09" r="1.4" fill="#145ca6"/>
<circle cx="167.52" cy="269.53" r="1.4" fill="#145ca6"/>
<circle cx="173.37" cy="254.44" r="1.4" fill="#145ca6"/>
<circle cx="179.22" cy="274.68" r="1.4" fill="#145ca6"/>
<circle cx="185.06" cy="245.18" r="1.4" fill="#145ca6"/>
<circle cx="190.91" cy="235.09" r="1.4" fill="#145ca6"/>
<circle cx="196.76" cy="234.64" r="1.4" fill="#145ca6"/>
<circle cx="202.61" cy="267.59" r="1.4" fill="#145ca6"/>
<circle cx="208.46" cy="217.53" r="1.4" fill="#145ca6"/>
<circle cx="214.31" cy="252.12" r="1.4" fill="#145ca6"/>
<circle cx="220.16" cy="273.56" r="1.4" fill="#145ca6"/>
<circle cx="226.01" cy="265.27" r="1.4" fill="#145ca6"/>
<circle cx="231.85" cy="250.11" r="1.4" fill="#145ca6"/>
<circle cx="237.70" cy="251.38" r="1.4" fill="#145ca6"/>
<circle cx="243.55" cy="238.23" r="1.4" fill="#145ca6"/>
<path d="M27.15 246.41 L28.75 249.66 L25.55 249.66Z" fill="#ee7216"/><circle cx="27.15" cy="248.46" r="1.32" fill="#ee7216"/>
<path d="M33.00 239.02 L34.60 242.27 L31.40 242.27Z" fill="#ee7216"/><circle cx="33.00" cy="241.07" r="1.32" fill="#ee7216"/>
<path d="M38.85 254.26 L40.45 257.51 L37.25 257.51Z" fill="#ee7216"/><circle cx="38.85" cy="256.31" r="1.32" fill="#ee7216"/>
<path d="M44.69 190.46 L46.29 193.71 L43.09 193.71Z" fill="#ee7216"/><circle cx="44.69" cy="192.51" r="1.32" fill="#ee7216"/>
<path d="M50.54 222.21 L52.14 225.46 L48.94 225.46Z" fill="#ee7216"/><circle cx="50.54" cy="224.26" r="1.32" fill="#ee7216"/>
<path d="M56.39 215.49 L57.99 218.74 L54.79 218.74Z" fill="#ee7216"/><circle cx="56.39" cy="217.54" r="1.32" fill="#ee7216"/>
<path d="M62.24 234.09 L63.84 237.34 L60.64 237.34Z" fill="#ee7216"/><circle cx="62.24" cy="236.14" r="1.32" fill="#ee7216"/>
<path d="M68.09 214.14 L69.69 217.39 L66.49 217.39Z" fill="#ee7216"/><circle cx="68.09" cy="216.19" r="1.32" fill="#ee7216"/>
<path d="M73.94 271.89 L75.54 275.14 L72.34 275.14Z" fill="#ee7216"/><circle cx="73.94" cy="273.94" r="1.32" fill="#ee7216"/>
<path d="M79.79 241.26 L81.39 244.51 L78.19 244.51Z" fill="#ee7216"/><circle cx="79.79" cy="243.31" r="1.32" fill="#ee7216"/>
<path d="M85.64 192.18 L87.24 195.43 L84.04 195.43Z" fill="#ee7216"/><circle cx="85.64" cy="194.23" r="1.32" fill="#ee7216"/>
<path d="M91.48 276.97 L93.08 280.22 L89.88 280.22Z" fill="#ee7216"/><circle cx="91.48" cy="279.02" r="1.32" fill="#ee7216"/>
<path d="M97.33 236.85 L98.93 240.10 L95.73 240.10Z" fill="#ee7216"/><circle cx="97.33" cy="238.90" r="1.32" fill="#ee7216"/>
<path d="M103.18 252.99 L104.78 256.24 L101.58 256.24Z" fill="#ee7216"/><circle cx="103.18" cy="255.04" r="1.32" fill="#ee7216"/>
<path d="M109.03 201.37 L110.63 204.62 L107.43 204.62Z" fill="#ee7216"/><circle cx="109.03" cy="203.42" r="1.32" fill="#ee7216"/>
<path d="M114.88 236.85 L116.48 240.10 L113.28 240.10Z" fill="#ee7216"/><circle cx="114.88" cy="238.90" r="1.32" fill="#ee7216"/>
<path d="M120.73 272.64 L122.33 275.89 L119.13 275.89Z" fill="#ee7216"/><circle cx="120.73" cy="274.69" r="1.32" fill="#ee7216"/>
<path d="M126.58 172.60 L128.18 175.85 L124.98 175.85Z" fill="#ee7216"/><circle cx="126.58" cy="174.65" r="1.32" fill="#ee7216"/>
<path d="M132.43 211.30 L134.03 214.55 L130.83 214.55Z" fill="#ee7216"/><circle cx="132.43" cy="213.35" r="1.32" fill="#ee7216"/>
<path d="M138.27 240.96 L139.87 244.21 L136.67 244.21Z" fill="#ee7216"/><circle cx="138.27" cy="243.01" r="1.32" fill="#ee7216"/>
<path d="M144.12 274.50 L145.72 277.75 L142.52 277.75Z" fill="#ee7216"/><circle cx="144.12" cy="276.55" r="1.32" fill="#ee7216"/>
<path d="M149.97 210.93 L151.57 214.18 L148.37 214.18Z" fill="#ee7216"/><circle cx="149.97" cy="212.98" r="1.32" fill="#ee7216"/>
<path d="M155.82 264.94 L157.42 268.19 L154.22 268.19Z" fill="#ee7216"/><circle cx="155.82" cy="266.99" r="1.32" fill="#ee7216"/>
<path d="M161.67 190.16 L163.27 193.41 L160.07 193.41Z" fill="#ee7216"/><circle cx="161.67" cy="192.21" r="1.32" fill="#ee7216"/>
<path d="M167.52 264.94 L169.12 268.19 L165.92 268.19Z" fill="#ee7216"/><circle cx="167.52" cy="266.99" r="1.32" fill="#ee7216"/>
<path d="M173.37 258.37 L174.97 261.62 L171.77 261.62Z" fill="#ee7216"/><circle cx="173.37" cy="260.42" r="1.32" fill="#ee7216"/>
<path d="M179.22 278.84 L180.82 282.09 L177.62 282.09Z" fill="#ee7216"/><circle cx="179.22" cy="280.89" r="1.32" fill="#ee7216"/>
<path d="M185.06 226.47 L186.66 229.72 L183.46 229.72Z" fill="#ee7216"/><circle cx="185.06" cy="228.52" r="1.32" fill="#ee7216"/>
<path d="M190.91 219.15 L192.51 222.40 L189.31 222.40Z" fill="#ee7216"/><circle cx="190.91" cy="221.20" r="1.32" fill="#ee7216"/>
<path d="M196.76 215.86 L198.36 219.11 L195.16 219.11Z" fill="#ee7216"/><circle cx="196.76" cy="217.91" r="1.32" fill="#ee7216"/>
<path d="M202.61 268.68 L204.21 271.93 L201.01 271.93Z" fill="#ee7216"/><circle cx="202.61" cy="270.73" r="1.32" fill="#ee7216"/>
<path d="M208.46 199.80 L210.06 203.05 L206.86 203.05Z" fill="#ee7216"/><circle cx="208.46" cy="201.85" r="1.32" fill="#ee7216"/>
<path d="M214.31 235.66 L215.91 238.91 L212.71 238.91Z" fill="#ee7216"/><circle cx="214.31" cy="237.71" r="1.32" fill="#ee7216"/>
<path d="M220.16 246.11 L221.76 249.36 L218.56 249.36Z" fill="#ee7216"/><circle cx="220.16" cy="248.16" r="1.32" fill="#ee7216"/>
<path d="M226.01 259.94 L227.61 263.19 L224.41 263.19Z" fill="#ee7216"/><circle cx="226.01" cy="261.99" r="1.32" fill="#ee7216"/>
<path d="M231.85 241.48 L233.45 244.73 L230.25 244.73Z" fill="#ee7216"/><circle cx="231.85" cy="243.53" r="1.32" fill="#ee7216"/>
<path d="M237.70 242.16 L239.30 245.41 L236.10 245.41Z" fill="#ee7216"/><circle cx="237.70" cy="244.21" r="1.32" fill="#ee7216"/>
<path d="M243.55 216.83 L245.15 220.08 L241.95 220.08Z" fill="#ee7216"/><circle cx="243.55" cy="218.88" r="1.32" fill="#ee7216"/>
<rect x="25.04" y="279.39" width="4.21" height="4.11" fill="#8fdb7c" fill-opacity="0.92" stroke="#6cc060" stroke-width="0.4"/>
<rect x="30.89" y="274.16" width="4.21" height="9.34" fill="#8fdb7c" fill-opacity="0.92" stroke="#6cc060" stroke-width="0.4"/>
<rect x="36.74" y="282.45" width="4.21" height="1.05" fill="#8fdb7c" fill-opacity="0.92" stroke="#6cc060" stroke-width="0.4"/>
<rect x="48.44" y="279.39" width="4.21" height="4.11" fill="#8fdb7c" fill-opacity="0.92" stroke="#6cc060" stroke-width="0.4"/>
<rect x="54.29" y="260.71" width="4.21" height="22.79" fill="#8fdb7c" fill-opacity="0.92" stroke="#6cc060" stroke-width="0.4"/>
<rect x="60.14" y="272.97" width="4.21" height="10.53" fill="#8fdb7c" fill-opacity="0.92" stroke="#6cc060" stroke-width="0.4"/>
<rect x="65.98" y="265.20" width="4.21" height="18.30" fill="#8fdb7c" fill-opacity="0.92" stroke="#6cc060" stroke-width="0.4"/>
<rect x="71.83" y="281.93" width="4.21" height="1.57" fill="#8fdb7c" fill-opacity="0.92" stroke="#6cc060" stroke-width="0.4"/>
<rect x="77.68" y="273.79" width="4.21" height="9.71" fill="#8fdb7c" fill-opacity="0.92" stroke="#6cc060" stroke-width="0.4"/>
<rect x="83.53" y="282.83" width="4.21" height="0.67" fill="#8fdb7c" fill-opacity="0.92" stroke="#6cc060" stroke-width="0.4"/>
<rect x="89.38" y="273.19" width="4.21" height="10.31" fill="#8fdb7c" fill-opacity="0.92" stroke="#6cc060" stroke-width="0.4"/>
<rect x="95.23" y="270.87" width="4.21" height="12.63" fill="#8fdb7c" fill-opacity="0.92" stroke="#6cc060" stroke-width="0.4"/>
<rect x="101.08" y="275.06" width="4.21" height="8.44" fill="#8fdb7c" fill-opacity="0.92" stroke="#6cc060" stroke-width="0.4"/>
<rect x="106.93" y="280.96" width="4.21" height="2.54" fill="#8fdb7c" fill-opacity="0.92" stroke="#6cc060" stroke-width="0.4"/>
<rect x="112.77" y="274.24" width="4.21" height="9.26" fill="#8fdb7c" fill-opacity="0.92" stroke="#6cc060" stroke-width="0.4"/>
<rect x="118.62" y="272.59" width="4.21" height="10.91" fill="#8fdb7c" fill-opacity="0.92" stroke="#6cc060" stroke-width="0.4"/>
<rect x="124.47" y="275.66" width="4.21" height="7.84" fill="#8fdb7c" fill-opacity="0.92" stroke="#6cc060" stroke-width="0.4"/>
<rect x="130.32" y="279.32" width="4.21" height="4.18" fill="#8fdb7c" fill-opacity="0.92" stroke="#6cc060" stroke-width="0.4"/>
<rect x="136.17" y="279.09" width="4.21" height="4.41" fill="#8fdb7c" fill-opacity="0.92" stroke="#6cc060" stroke-width="0.4"/>
<rect x="142.02" y="269.68" width="4.21" height="13.82" fill="#8fdb7c" fill-opacity="0.92" stroke="#6cc060" stroke-width="0.4"/>
<rect x="147.87" y="282.30" width="4.21" height="1.20" fill="#8fdb7c" fill-opacity="0.92" stroke="#6cc060" stroke-width="0.4"/>
<rect x="153.71" y="279.39" width="4.21" height="4.11" fill="#8fdb7c" fill-opacity="0.92" stroke="#6cc060" stroke-width="0.4"/>
<rect x="159.56" y="279.47" width="4.21" height="4.03" fill="#8fdb7c" fill-opacity="0.92" stroke="#6cc060" stroke-width="0.4"/>
<rect x="165.41" y="280.81" width="4.21" height="2.69" fill="#8fdb7c" fill-opacity="0.92" stroke="#6cc060" stroke-width="0.4"/>
<rect x="171.26" y="277.67" width="4.21" height="5.83" fill="#8fdb7c" fill-opacity="0.92" stroke="#6cc060" stroke-width="0.4"/>
<rect x="177.11" y="277.45" width="4.21" height="6.05" fill="#8fdb7c" fill-opacity="0.92" stroke="#6cc060" stroke-width="0.4"/>
<rect x="182.96" y="266.69" width="4.21" height="16.81" fill="#8fdb7c" fill-opacity="0.92" stroke="#6cc060" stroke-width="0.4"/>
<rect x="188.81" y="269.46" width="4.21" height="14.04" fill="#8fdb7c" fill-opacity="0.92" stroke="#6cc060" stroke-width="0.4"/>
<rect x="194.66" y="266.62" width="4.21" height="16.88" fill="#8fdb7c" fill-opacity="0.92" stroke="#6cc060" stroke-width="0.4"/>
<rect x="200.50" y="280.51" width="4.21" height="2.99" fill="#8fdb7c" fill-opacity="0.92" stroke="#6cc060" stroke-width="0.4"/>
<rect x="206.35" y="267.66" width="4.21" height="15.84" fill="#8fdb7c" fill-opacity="0.92" stroke="#6cc060" stroke-width="0.4"/>
<rect x="212.20" y="268.93" width="4.21" height="14.57" fill="#8fdb7c" fill-opacity="0.92" stroke="#6cc060" stroke-width="0.4"/>
<rect x="218.05" y="257.95" width="4.21" height="25.55" fill="#8fdb7c" fill-opacity="0.92" stroke="#6cc060" stroke-width="0.4"/>
<rect x="223.90" y="280.06" width="4.21" height="3.44" fill="#8fdb7c" fill-opacity="0.92" stroke="#6cc060" stroke-width="0.4"/>
<rect x="229.75" y="276.78" width="4.21" height="6.72" fill="#8fdb7c" fill-opacity="0.92" stroke="#6cc060" stroke-width="0.4"/>
<rect x="235.60" y="276.18" width="4.21" height="7.32" fill="#8fdb7c" fill-opacity="0.92" stroke="#6cc060" stroke-width="0.4"/>
<rect x="241.45" y="264.00" width="4.21" height="19.50" fill="#8fdb7c" fill-opacity="0.92" stroke="#6cc060" stroke-width="0.4"/>
<rect x="21.30" y="156.50" width="228.10" height="127.00" fill="none" stroke="#666666" stroke-width="1.0"/>
<line x1="21.30" y1="283.50" x2="22.90" y2="283.50" stroke="#666666" stroke-width="0.6"/>
<line x1="249.40" y1="283.50" x2="247.80" y2="283.50" stroke="#666666" stroke-width="0.6"/>
<text x="18.50" y="285.10" text-anchor="end" font-size="4.7" font-family="Liberation Serif, serif" font-weight="bold" stroke="#222" stroke-width="0.24" fill="#222">0</text>
<text x="252.20" y="285.10" text-anchor="start" font-size="4.7" font-family="Liberation Serif, serif" font-weight="bold" stroke="#222" stroke-width="0.24" fill="#222">0</text>
<line x1="21.30" y1="268.56" x2="22.90" y2="268.56" stroke="#666666" stroke-width="0.6"/>
<line x1="249.40" y1="268.56" x2="247.80" y2="268.56" stroke="#666666" stroke-width="0.6"/>
<text x="18.50" y="270.16" text-anchor="end" font-size="4.7" font-family="Liberation Serif, serif" font-weight="bold" stroke="#222" stroke-width="0.24" fill="#222">20</text>
<text x="252.20" y="270.16" text-anchor="start" font-size="4.7" font-family="Liberation Serif, serif" font-weight="bold" stroke="#222" stroke-width="0.24" fill="#222">20</text>
<line x1="21.30" y1="253.62" x2="22.90" y2="253.62" stroke="#666666" stroke-width="0.6"/>
<line x1="249.40" y1="253.62" x2="247.80" y2="253.62" stroke="#666666" stroke-width="0.6"/>
<text x="18.50" y="255.22" text-anchor="end" font-size="4.7" font-family="Liberation Serif, serif" font-weight="bold" stroke="#222" stroke-width="0.24" fill="#222">40</text>
<text x="252.20" y="255.22" text-anchor="start" font-size="4.7" font-family="Liberation Serif, serif" font-weight="bold" stroke="#222" stroke-width="0.24" fill="#222">40</text>
<line x1="21.30" y1="238.68" x2="22.90" y2="238.68" stroke="#666666" stroke-width="0.6"/>
<line x1="249.40" y1="238.68" x2="247.80" y2="238.68" stroke="#666666" stroke-width="0.6"/>
<text x="18.50" y="240.28" text-anchor="end" font-size="4.7" font-family="Liberation Serif, serif" font-weight="bold" stroke="#222" stroke-width="0.24" fill="#222">60</text>
<text x="252.20" y="240.28" text-anchor="start" font-size="4.7" font-family="Liberation Serif, serif" font-weight="bold" stroke="#222" stroke-width="0.24" fill="#222">60</text>
<line x1="21.30" y1="223.74" x2="22.90" y2="223.74" stroke="#666666" stroke-width="0.6"/>
<line x1="249.40" y1="223.74" x2="247.80" y2="223.74" stroke="#666666" stroke-width="0.6"/>
<text x="18.50" y="225.34" text-anchor="end" font-size="4.7" font-family="Liberation Serif, serif" font-weight="bold" stroke="#222" stroke-width="0.24" fill="#222">80</text>
<text x="252.20" y="225.34" text-anchor="start" font-size="4.7" font-family="Liberation Serif, serif" font-weight="bold" stroke="#222" stroke-width="0.24" fill="#222">80</text>
<line x1="21.30" y1="208.79" x2="22.90" y2="208.79" stroke="#666666" stroke-width="0.6"/>
<line x1="249.40" y1="208.79" x2="247.80" y2="208.79" stroke="#666666" stroke-width="0.6"/>
<text x="18.50" y="210.39" text-anchor="end" font-size="4.7" font-family="Liberation Serif, serif" font-weight="bold" stroke="#222" stroke-width="0.24" fill="#222">100</text>
<text x="252.20" y="210.39" text-anchor="start" font-size="4.7" font-family="Liberation Serif, serif" font-weight="bold" stroke="#222" stroke-width="0.24" fill="#222">100</text>
<line x1="21.30" y1="193.85" x2="22.90" y2="193.85" stroke="#666666" stroke-width="0.6"/>
<line x1="249.40" y1="193.85" x2="247.80" y2="193.85" stroke="#666666" stroke-width="0.6"/>
<text x="18.50" y="195.45" text-anchor="end" font-size="4.7" font-family="Liberation Serif, serif" font-weight="bold" stroke="#222" stroke-width="0.24" fill="#222">120</text>
<text x="252.20" y="195.45" text-anchor="start" font-size="4.7" font-family="Liberation Serif, serif" font-weight="bold" stroke="#222" stroke-width="0.24" fill="#222">120</text>
<line x1="21.30" y1="178.91" x2="22.90" y2="178.91" stroke="#666666" stroke-width="0.6"/>
<line x1="249.40" y1="178.91" x2="247.80" y2="178.91" stroke="#666666" stroke-width="0.6"/>
<text x="18.50" y="180.51" text-anchor="end" font-size="4.7" font-family="Liberation Serif, serif" font-weight="bold" stroke="#222" stroke-width="0.24" fill="#222">140</text>
<text x="252.20" y="180.51" text-anchor="start" font-size="4.7" font-family="Liberation Serif, serif" font-weight="bold" stroke="#222" stroke-width="0.24" fill="#222">140</text>
<line x1="21.30" y1="163.97" x2="22.90" y2="163.97" stroke="#666666" stroke-width="0.6"/>
<line x1="249.40" y1="163.97" x2="247.80" y2="163.97" stroke="#666666" stroke-width="0.6"/>
<text x="18.50" y="165.57" text-anchor="end" font-size="4.7" font-family="Liberation Serif, serif" font-weight="bold" stroke="#222" stroke-width="0.24" fill="#222">160</text>
<text x="252.20" y="165.57" text-anchor="start" font-size="4.7" font-family="Liberation Serif, serif" font-weight="bold" stroke="#222" stroke-width="0.24" fill="#222">160</text>
<text x="27.15" y="290.70" text-anchor="middle" font-size="4.7" font-family="Liberation Serif, serif" font-weight="bold" stroke="#222" stroke-width="0.24" fill="#222">1</text>
<text x="33.00" y="290.70" text-anchor="middle" font-size="4.7" font-family="Liberation Serif, serif" font-weight="bold" stroke="#222" stroke-width="0.24" fill="#222">2</text>
<text x="38.85" y="290.70" text-anchor="middle" font-size="4.7" font-family="Liberation Serif, serif" font-weight="bold" stroke="#222" stroke-width="0.24" fill="#222">3</text>
<text x="44.69" y="290.70" text-anchor="middle" font-size="4.7" font-family="Liberation Serif, serif" font-weight="bold" stroke="#222" stroke-width="0.24" fill="#222">4</text>
<text x="50.54" y="290.70" text-anchor="middle" font-size="4.7" font-family="Liberation Serif, serif" font-weight="bold" stroke="#222" stroke-width="0.24" fill="#222">5</text>
<text x="56.39" y="290.70" text-anchor="middle" font-size="4.7" font-family="Liberation Serif, serif" font-weight="bold" stroke="#222" stroke-width="0.24" fill="#222">6</text>
<text x="62.24" y="290.70" text-anchor="middle" font-size="4.7" font-family="Liberation Serif, serif" font-weight="bold" stroke="#222" stroke-width="0.24" fill="#222">7</text>
<text x="68.09" y="290.70" text-anchor="middle" font-size="4.7" font-family="Liberation Serif, serif" font-weight="bold" stroke="#222" stroke-width="0.24" fill="#222">8</text>
<text x="73.94" y="290.70" text-anchor="middle" font-size="4.7" font-family="Liberation Serif, serif" font-weight="bold" stroke="#222" stroke-width="0.24" fill="#222">9</text>
<text x="79.79" y="290.70" text-anchor="middle" font-size="4.7" font-family="Liberation Serif, serif" font-weight="bold" stroke="#222" stroke-width="0.24" fill="#222">10</text>
<text x="85.64" y="290.70" text-anchor="middle" font-size="4.7" font-family="Liberation Serif, serif" font-weight="bold" stroke="#222" stroke-width="0.24" fill="#222">11</text>
<text x="91.48" y="290.70" text-anchor="middle" font-size="4.7" font-family="Liberation Serif, serif" font-weight="bold" stroke="#222" stroke-width="0.24" fill="#222">12</text>
<text x="97.33" y="290.70" text-anchor="middle" font-size="4.7" font-family="Liberation Serif, serif" font-weight="bold" stroke="#222" stroke-width="0.24" fill="#222">13</text>
<text x="103.18" y="290.70" text-anchor="middle" font-size="4.7" font-family="Liberation Serif, serif" font-weight="bold" stroke="#222" stroke-width="0.24" fill="#222">14</text>
<text x="109.03" y="290.70" text-anchor="middle" font-size="4.7" font-family="Liberation Serif, serif" font-weight="bold" stroke="#222" stroke-width="0.24" fill="#222">15</text>
<text x="114.88" y="290.70" text-anchor="middle" font-size="4.7" font-family="Liberation Serif, serif" font-weight="bold" stroke="#222" stroke-width="0.24" fill="#222">16</text>
<text x="120.73" y="290.70" text-anchor="middle" font-size="4.7" font-family="Liberation Serif, serif" font-weight="bold" stroke="#222" stroke-width="0.24" fill="#222">17</text>
<text x="126.58" y="290.70" text-anchor="middle" font-size="4.7" font-family="Liberation Serif, serif" font-weight="bold" stroke="#222" stroke-width="0.24" fill="#222">18</text>
<text x="132.43" y="290.70" text-anchor="middle" font-size="4.7" font-family="Liberation Serif, serif" font-weight="bold" stroke="#222" stroke-width="0.24" fill="#222">19</text>
<text x="138.27" y="290.70" text-anchor="middle" font-size="4.7" font-family="Liberation Serif, serif" font-weight="bold" stroke="#222" stroke-width="0.24" fill="#222">20</text>
<text x="144.12" y="290.70" text-anchor="middle" font-size="4.7" font-family="Liberation Serif, serif" font-weight="bold" stroke="#222" stroke-width="0.24" fill="#222">21</text>
<text x="149.97" y="290.70" text-anchor="middle" font-size="4.7" font-family="Liberation Serif, serif" font-weight="bold" stroke="#222" stroke-width="0.24" fill="#222">22</text>
<text x="155.82" y="290.70" text-anchor="middle" font-size="4.7" font-family="Liberation Serif, serif" font-weight="bold" stroke="#222" stroke-width="0.24" fill="#222">23</text>
<text x="161.67" y="290.70" text-anchor="middle" font-size="4.7" font-family="Liberation Serif, serif" font-weight="bold" stroke="#222" stroke-width="0.24" fill="#222">24</text>
<text x="167.52" y="290.70" text-anchor="middle" font-size="4.7" font-family="Liberation Serif, serif" font-weight="bold" stroke="#222" stroke-width="0.24" fill="#222">25</text>
<text x="173.37" y="290.70" text-anchor="middle" font-size="4.7" font-family="Liberation Serif, serif" font-weight="bold" stroke="#222" stroke-width="0.24" fill="#222">26</text>
<text x="179.22" y="290.70" text-anchor="middle" font-size="4.7" font-family="Liberation Serif, serif" font-weight="bold" stroke="#222" stroke-width="0.24" fill="#222">27</text>
<text x="185.06" y="290.70" text-anchor="middle" font-size="4.7" font-family="Liberation Serif, serif" font-weight="bold" stroke="#222" stroke-width="0.24" fill="#222">28</text>
<text x="190.91" y="290.70" text-anchor="middle" font-size="4.7" font-family="Liberation Serif, serif" font-weight="bold" stroke="#222" stroke-width="0.24" fill="#222">29</text>
<text x="196.76" y="290.70" text-anchor="middle" font-size="4.7" font-family="Liberation Serif, serif" font-weight="bold" stroke="#222" stroke-width="0.24" fill="#222">30</text>
<text x="202.61" y="290.70" text-anchor="middle" font-size="4.7" font-family="Liberation Serif, serif" font-weight="bold" stroke="#222" stroke-width="0.24" fill="#222">31</text>
<text x="208.46" y="290.70" text-anchor="middle" font-size="4.7" font-family="Liberation Serif, serif" font-weight="bold" stroke="#222" stroke-width="0.24" fill="#222">32</text>
<text x="214.31" y="290.70" text-anchor="middle" font-size="4.7" font-family="Liberation Serif, serif" font-weight="bold" stroke="#222" stroke-width="0.24" fill="#222">33</text>
<text x="220.16" y="290.70" text-anchor="middle" font-size="4.7" font-family="Liberation Serif, serif" font-weight="bold" stroke="#222" stroke-width="0.24" fill="#222">34</text>
<text x="226.01" y="290.70" text-anchor="middle" font-size="4.7" font-family="Liberation Serif, serif" font-weight="bold" stroke="#222" stroke-width="0.24" fill="#222">35</text>
<text x="231.85" y="290.70" text-anchor="middle" font-size="4.7" font-family="Liberation Serif, serif" font-weight="bold" stroke="#222" stroke-width="0.24" fill="#222">36</text>
<text x="237.70" y="290.70" text-anchor="middle" font-size="4.7" font-family="Liberation Serif, serif" font-weight="bold" stroke="#222" stroke-width="0.24" fill="#222">37</text>
<text x="243.55" y="290.70" text-anchor="middle" font-size="4.7" font-family="Liberation Serif, serif" font-weight="bold" stroke="#222" stroke-width="0.24" fill="#222">38</text>
<text x="135.35" y="300.70" text-anchor="middle" font-size="6.0" font-family="Liberation Serif, serif" font-weight="bold" stroke="#111" stroke-width="0.22" fill="#111">Sample</text>
<text transform="translate(5.00,221.10) rotate(-90)" x="0" y="2" text-anchor="middle" font-size="5.75" font-family="Liberation Serif, serif" font-weight="bold" stroke="#111" stroke-width="0.22" fill="#111">Oil Production(t/d)</text>
<text transform="translate(268.20,216.90) rotate(-90)" x="0" y="2" text-anchor="middle" font-size="5.7" font-family="Liberation Serif, serif" font-weight="bold" stroke="#111" stroke-width="0.22" fill="#111">|Residual Error|(t/d)</text>
<text x="31.80" y="172.50" font-size="10.6" font-family="Liberation Serif, serif" font-weight="bold" stroke="#111" stroke-width="0.22" fill="#111">(c)</text>
<line x1="166.90" y1="163.00" x2="178.90" y2="163.00" stroke="#a6cceb" stroke-width="0.9"/>
<circle cx="172.90" cy="163.00" r="1.4" fill="#145ca6"/>
<text x="180.40" y="164.80" font-size="5.45" font-family="Liberation Serif, serif" font-weight="bold" stroke="#111" stroke-width="0.22" fill="#111">Ture_Data</text>
<line x1="166.90" y1="169.80" x2="178.90" y2="169.80" stroke="#efc096" stroke-width="0.9"/>
<path d="M172.90 168.30 L174.33 170.85 L171.47 170.85Z" fill="#ee7216"/>
<text x="180.40" y="171.60" font-size="5.45" font-family="Liberation Serif, serif" font-weight="bold" stroke="#111" stroke-width="0.22" fill="#111">SVM-R_Data</text>
<rect x="166.90" y="174.10" width="12.0" height="5.8" fill="#8fdb7c" stroke="#6cc060" stroke-width="0.4"/>
<text x="180.40" y="178.80" font-size="5.45" font-family="Liberation Serif, serif" font-weight="bold" stroke="#111" stroke-width="0.22" fill="#111">|Residual Error|</text></g>
<g><polyline points="306.25,252.42 312.10,250.26 317.95,255.11 323.79,192.36 329.64,228.22 335.49,240.17 341.34,246.52 347.19,234.34 353.04,272.22 358.89,252.87 364.74,194.75 370.58,268.56 376.43,251.38 382.28,263.33 388.13,205.81 393.98,248.01 399.83,263.63 405.68,166.66 411.53,217.39 417.37,247.27 423.22,262.58 429.07,214.02 434.92,270.95 440.77,196.09 446.62,269.53 452.47,254.44 458.32,274.68 464.16,245.18 470.01,235.09 475.86,234.64 481.71,267.59 487.56,217.53 493.41,252.12 499.26,273.56 505.11,265.27 510.95,250.11 516.80,251.38 522.65,238.23" fill="none" stroke="#a6cceb" stroke-width="0.9"/>
<polyline points="306.25,252.42 312.10,246.30 317.95,258.10 323.79,203.04 329.64,231.43 335.49,226.42 341.34,242.11 347.19,225.30 353.04,275.88 358.89,248.01 364.74,203.79 370.58,279.76 376.43,245.03 382.28,258.85 388.13,212.75 393.98,245.03 399.83,272.67 405.68,187.28 411.53,220.52 417.37,247.27 423.22,277.30 429.07,220.97 434.92,269.68 440.77,203.34 446.62,269.53 452.47,259.67 458.32,280.51 464.16,234.64 470.01,228.37 475.86,226.65 481.71,271.17 487.56,212.31 493.41,244.80 499.26,256.76 505.11,264.45 510.95,249.14 516.80,249.88 522.65,227.55" fill="none" stroke="#efc096" stroke-width="0.9"/>
<circle cx="306.25" cy="252.42" r="1.4" fill="#145ca6"/>
<circle cx="312.10" cy="250.26" r="1.4" fill="#145ca6"/>
<circle cx="317.95" cy="255.11" r="1.4" fill="#145ca6"/>
<circle cx="323.79" cy="192.36" r="1.4" fill="#145ca6"/>
<circle cx="329.64" cy="228.22" r="1.4" fill="#145ca6"/>
<circle cx="335.49" cy="240.17" r="1.4" fill="#145ca6"/>
<circle cx="341.34" cy="246.52" r="1.4" fill="#145ca6"/>
<circle cx="347.19" cy="234.34" r="1.4" fill="#145ca6"/>
<circle cx="353.04" cy="272.22" r="1.4" fill="#145ca6"/>
<circle cx="358.89" cy="252.87" r="1.4" fill="#145ca6"/>
<circle cx="364.74" cy="194.75" r="1.4" fill="#145ca6"/>
<circle cx="370.58" cy="268.56" r="1.4" fill="#145ca6"/>
<circle cx="376.43" cy="251.38" r="1.4" fill="#145ca6"/>
<circle cx="382.28" cy="263.33" r="1.4" fill="#145ca6"/>
<circle cx="388.13" cy="205.81" r="1.4" fill="#145ca6"/>
<circle cx="393.98" cy="248.01" r="1.4" fill="#145ca6"/>
<circle cx="399.83" cy="263.63" r="1.4" fill="#145ca6"/>
<circle cx="405.68" cy="166.66" r="1.4" fill="#145ca6"/>
<circle cx="411.53" cy="217.39" r="1.4" fill="#145ca6"/>
<circle cx="417.37" cy="247.27" r="1.4" fill="#145ca6"/>
<circle cx="423.22" cy="262.58" r="1.4" fill="#145ca6"/>
<circle cx="429.07" cy="214.02" r="1.4" fill="#145ca6"/>
<circle cx="434.92" cy="270.95" r="1.4" fill="#145ca6"/>
<circle cx="440.77" cy="196.09" r="1.4" fill="#145ca6"/>
<circle cx="446.62" cy="269.53" r="1.4" fill="#145ca6"/>
<circle cx="452.47" cy="254.44" r="1.4" fill="#145ca6"/>
<circle cx="458.32" cy="274.68" r="1.4" fill="#145ca6"/>
<circle cx="464.16" cy="245.18" r="1.4" fill="#145ca6"/>
<circle cx="470.01" cy="235.09" r="1.4" fill="#145ca6"/>
<circle cx="475.86" cy="234.64" r="1.4" fill="#145ca6"/>
<circle cx="481.71" cy="267.59" r="1.4" fill="#145ca6"/>
<circle cx="487.56" cy="217.53" r="1.4" fill="#145ca6"/>
<circle cx="493.41" cy="252.12" r="1.4" fill="#145ca6"/>
<circle cx="499.26" cy="273.56" r="1.4" fill="#145ca6"/>
<circle cx="505.11" cy="265.27" r="1.4" fill="#145ca6"/>
<circle cx="510.95" cy="250.11" r="1.4" fill="#145ca6"/>
<circle cx="516.80" cy="251.38" r="1.4" fill="#145ca6"/>
<circle cx="522.65" cy="238.23" r="1.4" fill="#145ca6"/>
<path d="M306.25 250.52 L307.85 253.77 L304.65 253.77Z" fill="#ee7216"/><circle cx="306.25" cy="252.57" r="1.32" fill="#ee7216"/>
<path d="M312.10 244.40 L313.70 247.65 L310.50 247.65Z" fill="#ee7216"/><circle cx="312.10" cy="246.45" r="1.32" fill="#ee7216"/>
<path d="M317.95 256.20 L319.55 259.45 L316.35 259.45Z" fill="#ee7216"/><circle cx="317.95" cy="258.25" r="1.32" fill="#ee7216"/>
<path d="M323.79 201.14 L325.39 204.39 L322.19 204.39Z" fill="#ee7216"/><circle cx="323.79" cy="203.19" r="1.32" fill="#ee7216"/>
<path d="M329.64 229.53 L331.24 232.78 L328.04 232.78Z" fill="#ee7216"/><circle cx="329.64" cy="231.58" r="1.32" fill="#ee7216"/>
<path d="M335.49 224.52 L337.09 227.77 L333.89 227.77Z" fill="#ee7216"/><circle cx="335.49" cy="226.57" r="1.32" fill="#ee7216"/>
<path d="M341.34 240.21 L342.94 243.46 L339.74 243.46Z" fill="#ee7216"/><circle cx="341.34" cy="242.26" r="1.32" fill="#ee7216"/>
<path d="M347.19 223.40 L348.79 226.65 L345.59 226.65Z" fill="#ee7216"/><circle cx="347.19" cy="225.45" r="1.32" fill="#ee7216"/>
<path d="M353.04 273.98 L354.64 277.23 L351.44 277.23Z" fill="#ee7216"/><circle cx="353.04" cy="276.03" r="1.32" fill="#ee7216"/>
<path d="M358.89 246.11 L360.49 249.36 L357.29 249.36Z" fill="#ee7216"/><circle cx="358.89" cy="248.16" r="1.32" fill="#ee7216"/>
<path d="M364.74 201.89 L366.34 205.14 L363.14 205.14Z" fill="#ee7216"/><circle cx="364.74" cy="203.94" r="1.32" fill="#ee7216"/>
<path d="M370.58 277.86 L372.18 281.11 L368.98 281.11Z" fill="#ee7216"/><circle cx="370.58" cy="279.91" r="1.32" fill="#ee7216"/>
<path d="M376.43 243.13 L378.03 246.38 L374.83 246.38Z" fill="#ee7216"/><circle cx="376.43" cy="245.18" r="1.32" fill="#ee7216"/>
<path d="M382.28 256.95 L383.88 260.20 L380.68 260.20Z" fill="#ee7216"/><circle cx="382.28" cy="259.00" r="1.32" fill="#ee7216"/>
<path d="M388.13 210.85 L389.73 214.10 L386.53 214.10Z" fill="#ee7216"/><circle cx="388.13" cy="212.90" r="1.32" fill="#ee7216"/>
<path d="M393.98 243.13 L395.58 246.38 L392.38 246.38Z" fill="#ee7216"/><circle cx="393.98" cy="245.18" r="1.32" fill="#ee7216"/>
<path d="M399.83 270.77 L401.43 274.02 L398.23 274.02Z" fill="#ee7216"/><circle cx="399.83" cy="272.82" r="1.32" fill="#ee7216"/>
<path d="M405.68 185.38 L407.28 188.63 L404.08 188.63Z" fill="#ee7216"/><circle cx="405.68" cy="187.43" r="1.32" fill="#ee7216"/>
<path d="M411.53 218.62 L413.13 221.87 L409.93 221.87Z" fill="#ee7216"/><circle cx="411.53" cy="220.67" r="1.32" fill="#ee7216"/>
<path d="M417.37 245.37 L418.97 248.62 L415.77 248.62Z" fill="#ee7216"/><circle cx="417.37" cy="247.42" r="1.32" fill="#ee7216"/>
<path d="M423.22 275.40 L424.82 278.65 L421.62 278.65Z" fill="#ee7216"/><circle cx="423.22" cy="277.45" r="1.32" fill="#ee7216"/>
<path d="M429.07 219.07 L430.67 222.32 L427.47 222.32Z" fill="#ee7216"/><circle cx="429.07" cy="221.12" r="1.32" fill="#ee7216"/>
<path d="M434.92 267.78 L436.52 271.03 L433.32 271.03Z" fill="#ee7216"/><circle cx="434.92" cy="269.83" r="1.32" fill="#ee7216"/>
<path d="M440.77 201.44 L442.37 204.69 L439.17 204.69Z" fill="#ee7216"/><circle cx="440.77" cy="203.49" r="1.32" fill="#ee7216"/>
<path d="M446.62 267.63 L448.22 270.88 L445.02 270.88Z" fill="#ee7216"/><circle cx="446.62" cy="269.68" r="1.32" fill="#ee7216"/>
<path d="M452.47 257.77 L454.07 261.02 L450.87 261.02Z" fill="#ee7216"/><circle cx="452.47" cy="259.82" r="1.32" fill="#ee7216"/>
<path d="M458.32 278.61 L459.92 281.86 L456.72 281.86Z" fill="#ee7216"/><circle cx="458.32" cy="280.66" r="1.32" fill="#ee7216"/>
<path d="M464.16 232.74 L465.76 235.99 L462.56 235.99Z" fill="#ee7216"/><circle cx="464.16" cy="234.79" r="1.32" fill="#ee7216"/>
<path d="M470.01 226.47 L471.61 229.72 L468.41 229.72Z" fill="#ee7216"/><circle cx="470.01" cy="228.52" r="1.32" fill="#ee7216"/>
<path d="M475.86 224.75 L477.46 228.00 L474.26 228.00Z" fill="#ee7216"/><circle cx="475.86" cy="226.80" r="1.32" fill="#ee7216"/>
<path d="M481.71 269.27 L483.31 272.52 L480.11 272.52Z" fill="#ee7216"/><circle cx="481.71" cy="271.32" r="1.32" fill="#ee7216"/>
<path d="M487.56 210.41 L489.16 213.66 L485.96 213.66Z" fill="#ee7216"/><circle cx="487.56" cy="212.46" r="1.32" fill="#ee7216"/>
<path d="M493.41 242.90 L495.01 246.15 L491.81 246.15Z" fill="#ee7216"/><circle cx="493.41" cy="244.95" r="1.32" fill="#ee7216"/>
<path d="M499.26 254.86 L500.86 258.11 L497.66 258.11Z" fill="#ee7216"/><circle cx="499.26" cy="256.91" r="1.32" fill="#ee7216"/>
<path d="M505.11 262.55 L506.71 265.80 L503.51 265.80Z" fill="#ee7216"/><circle cx="505.11" cy="264.60" r="1.32" fill="#ee7216"/>
<path d="M510.95 247.24 L512.55 250.49 L509.35 250.49Z" fill="#ee7216"/><circle cx="510.95" cy="249.29" r="1.32" fill="#ee7216"/>
<path d="M516.80 247.98 L518.40 251.23 L515.20 251.23Z" fill="#ee7216"/><circle cx="516.80" cy="250.03" r="1.32" fill="#ee7216"/>
<path d="M522.65 225.65 L524.25 228.90 L521.05 228.90Z" fill="#ee7216"/><circle cx="522.65" cy="227.70" r="1.32" fill="#ee7216"/>
<rect x="309.99" y="279.54" width="4.21" height="3.96" fill="#8fdb7c" fill-opacity="0.92" stroke="#6cc060" stroke-width="0.4"/>
<rect x="315.84" y="280.51" width="4.21" height="2.99" fill="#8fdb7c" fill-opacity="0.92" stroke="#6cc060" stroke-width="0.4"/>
<rect x="321.69" y="272.82" width="4.21" height="10.68" fill="#8fdb7c" fill-opacity="0.92" stroke="#6cc060" stroke-width="0.4"/>
<rect x="327.54" y="280.29" width="4.21" height="3.21" fill="#8fdb7c" fill-opacity="0.92" stroke="#6cc060" stroke-width="0.4"/>
<rect x="333.39" y="269.75" width="4.21" height="13.75" fill="#8fdb7c" fill-opacity="0.92" stroke="#6cc060" stroke-width="0.4"/>
<rect x="339.24" y="279.09" width="4.21" height="4.41" fill="#8fdb7c" fill-opacity="0.92" stroke="#6cc060" stroke-width="0.4"/>
<rect x="345.08" y="274.46" width="4.21" height="9.04" fill="#8fdb7c" fill-opacity="0.92" stroke="#6cc060" stroke-width="0.4"/>
<rect x="350.93" y="279.84" width="4.21" height="3.66" fill="#8fdb7c" fill-opacity="0.92" stroke="#6cc060" stroke-width="0.4"/>
<rect x="356.78" y="278.64" width="4.21" height="4.86" fill="#8fdb7c" fill-opacity="0.92" stroke="#6cc060" stroke-width="0.4"/>
<rect x="362.63" y="274.46" width="4.21" height="9.04" fill="#8fdb7c" fill-opacity="0.92" stroke="#6cc060" stroke-width="0.4"/>
<rect x="368.48" y="272.29" width="4.21" height="11.21" fill="#8fdb7c" fill-opacity="0.92" stroke="#6cc060" stroke-width="0.4"/>
<rect x="374.33" y="277.15" width="4.21" height="6.35" fill="#8fdb7c" fill-opacity="0.92" stroke="#6cc060" stroke-width="0.4"/>
<rect x="380.18" y="279.02" width="4.21" height="4.48" fill="#8fdb7c" fill-opacity="0.92" stroke="#6cc060" stroke-width="0.4"/>
<rect x="386.03" y="276.55" width="4.21" height="6.95" fill="#8fdb7c" fill-opacity="0.92" stroke="#6cc060" stroke-width="0.4"/>
<rect x="391.87" y="280.51" width="4.21" height="2.99" fill="#8fdb7c" fill-opacity="0.92" stroke="#6cc060" stroke-width="0.4"/>
<rect x="397.72" y="274.46" width="4.21" height="9.04" fill="#8fdb7c" fill-opacity="0.92" stroke="#6cc060" stroke-width="0.4"/>
<rect x="403.57" y="262.88" width="4.21" height="20.62" fill="#8fdb7c" fill-opacity="0.92" stroke="#6cc060" stroke-width="0.4"/>
<rect x="409.42" y="280.36" width="4.21" height="3.14" fill="#8fdb7c" fill-opacity="0.92" stroke="#6cc060" stroke-width="0.4"/>
<rect x="421.12" y="268.78" width="4.21" height="14.72" fill="#8fdb7c" fill-opacity="0.92" stroke="#6cc060" stroke-width="0.4"/>
<rect x="426.97" y="276.55" width="4.21" height="6.95" fill="#8fdb7c" fill-opacity="0.92" stroke="#6cc060" stroke-width="0.4"/>
<rect x="432.81" y="282.23" width="4.21" height="1.27" fill="#8fdb7c" fill-opacity="0.92" stroke="#6cc060" stroke-width="0.4"/>
<rect x="438.66" y="276.25" width="4.21" height="7.25" fill="#8fdb7c" fill-opacity="0.92" stroke="#6cc060" stroke-width="0.4"/>
<rect x="450.36" y="278.27" width="4.21" height="5.23" fill="#8fdb7c" fill-opacity="0.92" stroke="#6cc060" stroke-width="0.4"/>
<rect x="456.21" y="277.67" width="4.21" height="5.83" fill="#8fdb7c" fill-opacity="0.92" stroke="#6cc060" stroke-width="0.4"/>
<rect x="462.06" y="272.97" width="4.21" height="10.53" fill="#8fdb7c" fill-opacity="0.92" stroke="#6cc060" stroke-width="0.4"/>
<rect x="467.91" y="276.78" width="4.21" height="6.72" fill="#8fdb7c" fill-opacity="0.92" stroke="#6cc060" stroke-width="0.4"/>
<rect x="473.76" y="275.51" width="4.21" height="7.99" fill="#8fdb7c" fill-opacity="0.92" stroke="#6cc060" stroke-width="0.4"/>
<rect x="479.60" y="279.91" width="4.21" height="3.59" fill="#8fdb7c" fill-opacity="0.92" stroke="#6cc060" stroke-width="0.4"/>
<rect x="485.45" y="278.27" width="4.21" height="5.23" fill="#8fdb7c" fill-opacity="0.92" stroke="#6cc060" stroke-width="0.4"/>
<rect x="491.30" y="276.18" width="4.21" height="7.32" fill="#8fdb7c" fill-opacity="0.92" stroke="#6cc060" stroke-width="0.4"/>
<rect x="497.15" y="266.69" width="4.21" height="16.81" fill="#8fdb7c" fill-opacity="0.92" stroke="#6cc060" stroke-width="0.4"/>
<rect x="503.00" y="282.68" width="4.21" height="0.82" fill="#8fdb7c" fill-opacity="0.92" stroke="#6cc060" stroke-width="0.4"/>
<rect x="508.85" y="282.53" width="4.21" height="0.97" fill="#8fdb7c" fill-opacity="0.92" stroke="#6cc060" stroke-width="0.4"/>
<rect x="514.70" y="282.01" width="4.21" height="1.49" fill="#8fdb7c" fill-opacity="0.92" stroke="#6cc060" stroke-width="0.4"/>
<rect x="520.55" y="272.82" width="4.21" height="10.68" fill="#8fdb7c" fill-opacity="0.92" stroke="#6cc060" stroke-width="0.4"/>
<rect x="300.40" y="156.50" width="228.10" height="127.00" fill="none" stroke="#666666" stroke-width="1.0"/>
<line x1="300.40" y1="283.50" x2="302.00" y2="283.50" stroke="#666666" stroke-width="0.6"/>
<line x1="528.50" y1="283.50" x2="526.90" y2="283.50" stroke="#666666" stroke-width="0.6"/>
<text x="297.60" y="285.10" text-anchor="end" font-size="4.7" font-family="Liberation Serif, serif" font-weight="bold" stroke="#222" stroke-width="0.24" fill="#222">0</text>
<text x="531.30" y="285.10" text-anchor="start" font-size="4.7" font-family="Liberation Serif, serif" font-weight="bold" stroke="#222" stroke-width="0.24" fill="#222">0</text>
<line x1="300.40" y1="268.56" x2="302.00" y2="268.56" stroke="#666666" stroke-width="0.6"/>
<line x1="528.50" y1="268.56" x2="526.90" y2="268.56" stroke="#666666" stroke-width="0.6"/>
<text x="297.60" y="270.16" text-anchor="end" font-size="4.7" font-family="Liberation Serif, serif" font-weight="bold" stroke="#222" stroke-width="0.24" fill="#222">20</text>
<text x="531.30" y="270.16" text-anchor="start" font-size="4.7" font-family="Liberation Serif, serif" font-weight="bold" stroke="#222" stroke-width="0.24" fill="#222">20</text>
<line x1="300.40" y1="253.62" x2="302.00" y2="253.62" stroke="#666666" stroke-width="0.6"/>
<line x1="528.50" y1="253.62" x2="526.90" y2="253.62" stroke="#666666" stroke-width="0.6"/>
<text x="297.60" y="255.22" text-anchor="end" font-size="4.7" font-family="Liberation Serif, serif" font-weight="bold" stroke="#222" stroke-width="0.24" fill="#222">40</text>
<text x="531.30" y="255.22" text-anchor="start" font-size="4.7" font-family="Liberation Serif, serif" font-weight="bold" stroke="#222" stroke-width="0.24" fill="#222">40</text>
<line x1="300.40" y1="238.68" x2="302.00" y2="238.68" stroke="#666666" stroke-width="0.6"/>
<line x1="528.50" y1="238.68" x2="526.90" y2="238.68" stroke="#666666" stroke-width="0.6"/>
<text x="297.60" y="240.28" text-anchor="end" font-size="4.7" font-family="Liberation Serif, serif" font-weight="bold" stroke="#222" stroke-width="0.24" fill="#222">60</text>
<text x="531.30" y="240.28" text-anchor="start" font-size="4.7" font-family="Liberation Serif, serif" font-weight="bold" stroke="#222" stroke-width="0.24" fill="#222">60</text>
<line x1="300.40" y1="223.74" x2="302.00" y2="223.74" stroke="#666666" stroke-width="0.6"/>
<line x1="528.50" y1="223.74" x2="526.90" y2="223.74" stroke="#666666" stroke-width="0.6"/>
<text x="297.60" y="225.34" text-anchor="end" font-size="4.7" font-family="Liberation Serif, serif" font-weight="bold" stroke="#222" stroke-width="0.24" fill="#222">80</text>
<text x="531.30" y="225.34" text-anchor="start" font-size="4.7" font-family="Liberation Serif, serif" font-weight="bold" stroke="#222" stroke-width="0.24" fill="#222">80</text>
<line x1="300.40" y1="208.79" x2="302.00" y2="208.79" stroke="#666666" stroke-width="0.6"/>
<line x1="528.50" y1="208.79" x2="526.90" y2="208.79" stroke="#666666" stroke-width="0.6"/>
<text x="297.60" y="210.39" text-anchor="end" font-size="4.7" font-family="Liberation Serif, serif" font-weight="bold" stroke="#222" stroke-width="0.24" fill="#222">100</text>
<text x="531.30" y="210.39" text-anchor="start" font-size="4.7" font-family="Liberation Serif, serif" font-weight="bold" stroke="#222" stroke-width="0.24" fill="#222">100</text>
<line x1="300.40" y1="193.85" x2="302.00" y2="193.85" stroke="#666666" stroke-width="0.6"/>
<line x1="528.50" y1="193.85" x2="526.90" y2="193.85" stroke="#666666" stroke-width="0.6"/>
<text x="297.60" y="195.45" text-anchor="end" font-size="4.7" font-family="Liberation Serif, serif" font-weight="bold" stroke="#222" stroke-width="0.24" fill="#222">120</text>
<text x="531.30" y="195.45" text-anchor="start" font-size="4.7" font-family="Liberation Serif, serif" font-weight="bold" stroke="#222" stroke-width="0.24" fill="#222">120</text>
<line x1="300.40" y1="178.91" x2="302.00" y2="178.91" stroke="#666666" stroke-width="0.6"/>
<line x1="528.50" y1="178.91" x2="526.90" y2="178.91" stroke="#666666" stroke-width="0.6"/>
<text x="297.60" y="180.51" text-anchor="end" font-size="4.7" font-family="Liberation Serif, serif" font-weight="bold" stroke="#222" stroke-width="0.24" fill="#222">140</text>
<text x="531.30" y="180.51" text-anchor="start" font-size="4.7" font-family="Liberation Serif, serif" font-weight="bold" stroke="#222" stroke-width="0.24" fill="#222">140</text>
<line x1="300.40" y1="163.97" x2="302.00" y2="163.97" stroke="#666666" stroke-width="0.6"/>
<line x1="528.50" y1="163.97" x2="526.90" y2="163.97" stroke="#666666" stroke-width="0.6"/>
<text x="297.60" y="165.57" text-anchor="end" font-size="4.7" font-family="Liberation Serif, serif" font-weight="bold" stroke="#222" stroke-width="0.24" fill="#222">160</text>
<text x="531.30" y="165.57" text-anchor="start" font-size="4.7" font-family="Liberation Serif, serif" font-weight="bold" stroke="#222" stroke-width="0.24" fill="#222">160</text>
<text x="306.25" y="290.70" text-anchor="middle" font-size="4.7" font-family="Liberation Serif, serif" font-weight="bold" stroke="#222" stroke-width="0.24" fill="#222">1</text>
<text x="312.10" y="290.70" text-anchor="middle" font-size="4.7" font-family="Liberation Serif, serif" font-weight="bold" stroke="#222" stroke-width="0.24" fill="#222">2</text>
<text x="317.95" y="290.70" text-anchor="middle" font-size="4.7" font-family="Liberation Serif, serif" font-weight="bold" stroke="#222" stroke-width="0.24" fill="#222">3</text>
<text x="323.79" y="290.70" text-anchor="middle" font-size="4.7" font-family="Liberation Serif, serif" font-weight="bold" stroke="#222" stroke-width="0.24" fill="#222">4</text>
<text x="329.64" y="290.70" text-anchor="middle" font-size="4.7" font-family="Liberation Serif, serif" font-weight="bold" stroke="#222" stroke-width="0.24" fill="#222">5</text>
<text x="335.49" y="290.70" text-anchor="middle" font-size="4.7" font-family="Liberation Serif, serif" font-weight="bold" stroke="#222" stroke-width="0.24" fill="#222">6</text>
<text x="341.34" y="290.70" text-anchor="middle" font-size="4.7" font-family="Liberation Serif, serif" font-weight="bold" stroke="#222" stroke-width="0.24" fill="#222">7</text>
<text x="347.19" y="290.70" text-anchor="middle" font-size="4.7" font-family="Liberation Serif, serif" font-weight="bold" stroke="#222" stroke-width="0.24" fill="#222">8</text>
<text x="353.04" y="290.70" text-anchor="middle" font-size="4.7" font-family="Liberation Serif, serif" font-weight="bold" stroke="#222" stroke-width="0.24" fill="#222">9</text>
<text x="358.89" y="290.70" text-anchor="middle" font-size="4.7" font-family="Liberation Serif, serif" font-weight="bold" stroke="#222" stroke-width="0.24" fill="#222">10</text>
<text x="364.74" y="290.70" text-anchor="middle" font-size="4.7" font-family="Liberation Serif, serif" font-weight="bold" stroke="#222" stroke-width="0.24" fill="#222">11</text>
<text x="370.58" y="290.70" text-anchor="middle" font-size="4.7" font-family="Liberation Serif, serif" font-weight="bold" stroke="#222" stroke-width="0.24" fill="#222">12</text>
<text x="376.43" y="290.70" text-anchor="middle" font-size="4.7" font-family="Liberation Serif, serif" font-weight="bold" stroke="#222" stroke-width="0.24" fill="#222">13</text>
<text x="382.28" y="290.70" text-anchor="middle" font-size="4.7" font-family="Liberation Serif, serif" font-weight="bold" stroke="#222" stroke-width="0.24" fill="#222">14</text>
<text x="388.13" y="290.70" text-anchor="middle" font-size="4.7" font-family="Liberation Serif, serif" font-weight="bold" stroke="#222" stroke-width="0.24" fill="#222">15</text>
<text x="393.98" y="290.70" text-anchor="middle" font-size="4.7" font-family="Liberation Serif, serif" font-weight="bold" stroke="#222" stroke-width="0.24" fill="#222">16</text>
<text x="399.83" y="290.70" text-anchor="middle" font-size="4.7" font-family="Liberation Serif, serif" font-weight="bold" stroke="#222" stroke-width="0.24" fill="#222">17</text>
<text x="405.68" y="290.70" text-anchor="middle" font-size="4.7" font-family="Liberation Serif, serif" font-weight="bold" stroke="#222" stroke-width="0.24" fill="#222">18</text>
<text x="411.53" y="290.70" text-anchor="middle" font-size="4.7" font-family="Liberation Serif, serif" font-weight="bold" stroke="#222" stroke-width="0.24" fill="#222">19</text>
<text x="417.37" y="290.70" text-anchor="middle" font-size="4.7" font-family="Liberation Serif, serif" font-weight="bold" stroke="#222" stroke-width="0.24" fill="#222">20</text>
<text x="423.22" y="290.70" text-anchor="middle" font-size="4.7" font-family="Liberation Serif, serif" font-weight="bold" stroke="#222" stroke-width="0.24" fill="#222">21</text>
<text x="429.07" y="290.70" text-anchor="middle" font-size="4.7" font-family="Liberation Serif, serif" font-weight="bold" stroke="#222" stroke-width="0.24" fill="#222">22</text>
<text x="434.92" y="290.70" text-anchor="middle" font-size="4.7" font-family="Liberation Serif, serif" font-weight="bold" stroke="#222" stroke-width="0.24" fill="#222">23</text>
<text x="440.77" y="290.70" text-anchor="middle" font-size="4.7" font-family="Liberation Serif, serif" font-weight="bold" stroke="#222" stroke-width="0.24" fill="#222">24</text>
<text x="446.62" y="290.70" text-anchor="middle" font-size="4.7" font-family="Liberation Serif, serif" font-weight="bold" stroke="#222" stroke-width="0.24" fill="#222">25</text>
<text x="452.47" y="290.70" text-anchor="middle" font-size="4.7" font-family="Liberation Serif, serif" font-weight="bold" stroke="#222" stroke-width="0.24" fill="#222">26</text>
<text x="458.32" y="290.70" text-anchor="middle" font-size="4.7" font-family="Liberation Serif, serif" font-weight="bold" stroke="#222" stroke-width="0.24" fill="#222">27</text>
<text x="464.16" y="290.70" text-anchor="middle" font-size="4.7" font-family="Liberation Serif, serif" font-weight="bold" stroke="#222" stroke-width="0.24" fill="#222">28</text>
<text x="470.01" y="290.70" text-anchor="middle" font-size="4.7" font-family="Liberation Serif, serif" font-weight="bold" stroke="#222" stroke-width="0.24" fill="#222">29</text>
<text x="475.86" y="290.70" text-anchor="middle" font-size="4.7" font-family="Liberation Serif, serif" font-weight="bold" stroke="#222" stroke-width="0.24" fill="#222">30</text>
<text x="481.71" y="290.70" text-anchor="middle" font-size="4.7" font-family="Liberation Serif, serif" font-weight="bold" stroke="#222" stroke-width="0.24" fill="#222">31</text>
<text x="487.56" y="290.70" text-anchor="middle" font-size="4.7" font-family="Liberation Serif, serif" font-weight="bold" stroke="#222" stroke-width="0.24" fill="#222">32</text>
<text x="493.41" y="290.70" text-anchor="middle" font-size="4.7" font-family="Liberation Serif, serif" font-weight="bold" stroke="#222" stroke-width="0.24" fill="#222">33</text>
<text x="499.26" y="290.70" text-anchor="middle" font-size="4.7" font-family="Liberation Serif, serif" font-weight="bold" stroke="#222" stroke-width="0.24" fill="#222">34</text>
<text x="505.11" y="290.70" text-anchor="middle" font-size="4.7" font-family="Liberation Serif, serif" font-weight="bold" stroke="#222" stroke-width="0.24" fill="#222">35</text>
<text x="510.95" y="290.70" text-anchor="middle" font-size="4.7" font-family="Liberation Serif, serif" font-weight="bold" stroke="#222" stroke-width="0.24" fill="#222">36</text>
<text x="516.80" y="290.70" text-anchor="middle" font-size="4.7" font-family="Liberation Serif, serif" font-weight="bold" stroke="#222" stroke-width="0.24" fill="#222">37</text>
<text x="522.65" y="290.70" text-anchor="middle" font-size="4.7" font-family="Liberation Serif, serif" font-weight="bold" stroke="#222" stroke-width="0.24" fill="#222">38</text>
<text x="414.45" y="300.70" text-anchor="middle" font-size="6.0" font-family="Liberation Serif, serif" font-weight="bold" stroke="#111" stroke-width="0.22" fill="#111">Sample</text>
<text transform="translate(284.10,221.10) rotate(-90)" x="0" y="2" text-anchor="middle" font-size="5.75" font-family="Liberation Serif, serif" font-weight="bold" stroke="#111" stroke-width="0.22" fill="#111">Oil Production(t/d)</text>
<text transform="translate(546.60,216.90) rotate(-90)" x="0" y="2" text-anchor="middle" font-size="5.7" font-family="Liberation Serif, serif" font-weight="bold" stroke="#111" stroke-width="0.22" fill="#111">|Residual Error|(t/d)</text>
<text x="311.70" y="172.60" font-size="10.6" font-family="Liberation Serif, serif" font-weight="bold" stroke="#111" stroke-width="0.22" fill="#111">(d)</text>
<line x1="446.00" y1="163.00" x2="458.00" y2="163.00" stroke="#a6cceb" stroke-width="0.9"/>
<circle cx="452.00" cy="163.00" r="1.4" fill="#145ca6"/>
<text x="459.50" y="164.80" font-size="5.45" font-family="Liberation Serif, serif" font-weight="bold" stroke="#111" stroke-width="0.22" fill="#111">Ture_Data</text>
<line x1="446.00" y1="169.80" x2="458.00" y2="169.80" stroke="#efc096" stroke-width="0.9"/>
<path d="M452.00 168.30 L453.43 170.85 L450.57 170.85Z" fill="#ee7216"/>
<text x="459.50" y="171.60" font-size="5.45" font-family="Liberation Serif, serif" font-weight="bold" stroke="#111" stroke-width="0.22" fill="#111">Linear-Regress_Data</text>
<rect x="446.00" y="174.10" width="12.0" height="5.8" fill="#8fdb7c" stroke="#6cc060" stroke-width="0.4"/>
<text x="459.50" y="178.80" font-size="5.45" font-family="Liberation Serif, serif" font-weight="bold" stroke="#111" stroke-width="0.22" fill="#111">|Residual Error|</text></g>
</svg>
</body></html>
